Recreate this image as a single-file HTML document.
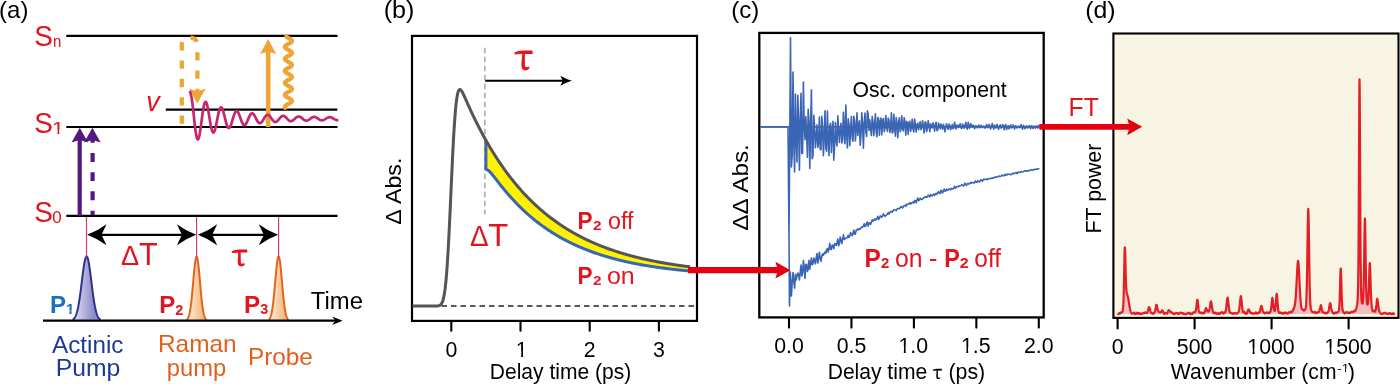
<!DOCTYPE html>
<html><head><meta charset="utf-8"><title>Figure</title>
<style>html,body{margin:0;padding:0;background:#fff;} svg{display:block;}</style></head>
<body><svg width="1400" height="384" viewBox="0 0 1400 384">
<rect width="1400" height="384" fill="#fff"/>
<defs><clipPath id="c1" clipPathUnits="userSpaceOnUse"><path clip-rule="evenodd" d="M-20,-120 H80 V40 H-20 Z M4,-30 H25.1 V40 H4 Z M34.05,-30 H56 V40 H34.05 Z"/></clipPath>
<clipPath id="c1b" clipPathUnits="userSpaceOnUse"><path clip-rule="evenodd" d="M-20,-120 H80 V40 H-20 Z M3,-30 H23.3 V40 H3 Z M37.1,-30 H58 V40 H37.1 Z"/></clipPath></defs>
<text transform="translate(-0.89,18.00)" font-family='"Liberation Sans", Arial, sans-serif' font-size="24.00" fill="#000">(a)</text>
<text transform="translate(34.33,46.10) scale(0.9644,1.0000)" font-family='"Liberation Sans", Arial, sans-serif' font-size="29.00" fill="#E2141E">S</text>
<text transform="translate(52.90,46.90) scale(0.9131,1.0000)" font-family='"Liberation Sans", Arial, sans-serif' font-size="16.50" fill="#E2141E">n</text>
<text transform="translate(34.33,133.00) scale(0.9644,1.0000)" font-family='"Liberation Sans", Arial, sans-serif' font-size="29.00" fill="#E2141E">S</text>
<text transform="translate(51.73,134.40) scale(0.2258,0.1600)" font-family='"Liberation Sans", Arial, sans-serif' font-size="100" fill="#E2141E" clip-path="url(#c1)">1</text>
<text transform="translate(34.33,222.00) scale(0.9644,1.0000)" font-family='"Liberation Sans", Arial, sans-serif' font-size="29.00" fill="#E2141E">S</text>
<text transform="translate(52.24,223.00) scale(0.9967,1.0000)" font-family='"Liberation Sans", Arial, sans-serif' font-size="17.00" fill="#E2141E">0</text>
<text transform="translate(146.33,111.20) scale(0.9807,1.0000)" font-family='"Liberation Sans", Arial, sans-serif' font-size="27.50" font-style="italic" fill="#E2141E">v</text>
<line x1="66.30" y1="35.90" x2="337.50" y2="35.90" stroke="#000" stroke-width="2.2" />
<line x1="66.30" y1="127.00" x2="337.50" y2="127.00" stroke="#000" stroke-width="2.2" />
<line x1="66.30" y1="215.80" x2="337.50" y2="215.80" stroke="#000" stroke-width="2.2" />
<line x1="165.80" y1="109.70" x2="337.30" y2="109.70" stroke="#000" stroke-width="2.2" />
<line x1="79.70" y1="215.80" x2="79.70" y2="139.50" stroke="#521A80" stroke-width="4.2" />
<polygon points="79.80,127.80 88.10,142.40 79.80,140.00 71.50,142.40" fill="#521A80"/>
<path d="M92.6,215 L92.6,210.8 M92.6,200.3 L92.6,191.2 M92.6,181.1 L92.6,172.2 M92.6,162 L92.6,152.9 M92.6,142.8 L92.6,139" stroke="#521A80" stroke-width="4.2" fill="none"/>
<polygon points="92.40,127.80 100.70,142.40 92.40,140.00 84.10,142.40" fill="#521A80"/>
<path d="M181.8,126 L181.8,45.5 Q181.8,37.6 189.6,37.6 Q197.4,37.6 197.4,45.5 L197.4,93" stroke="#EFA534" stroke-width="4.3" fill="none" stroke-dasharray="8.3 10" stroke-dashoffset="16.05"/>
<polygon points="197.30,103.40 188.90,88.60 197.30,91.60 205.70,88.60" fill="#EFA534"/>
<line x1="268.20" y1="127.00" x2="268.20" y2="51.00" stroke="#EFA534" stroke-width="4.6" />
<polygon points="268.20,39.10 276.30,54.00 268.20,51.50 260.10,54.00" fill="#EFA534"/>
<polyline points="286.20,36.60 286.81,37.00 287.49,37.40 288.22,37.80 288.95,38.20 289.65,38.60 290.31,39.00 290.87,39.40 291.34,39.80 291.67,40.20 291.86,40.60 291.90,41.00 291.78,41.40 291.52,41.80 291.12,42.20 290.60,42.60 289.99,43.00 289.31,43.40 288.58,43.80 287.85,44.20 287.15,44.60 286.49,45.00 285.93,45.40 285.46,45.80 285.13,46.20 284.94,46.60 284.90,47.00 285.02,47.40 285.28,47.80 285.68,48.20 286.20,48.60 286.81,49.00 287.49,49.40 288.22,49.80 288.95,50.20 289.65,50.60 290.31,51.00 290.87,51.40 291.34,51.80 291.67,52.20 291.86,52.60 291.90,53.00 291.78,53.40 291.52,53.80 291.12,54.20 290.60,54.60 289.99,55.00 289.31,55.40 288.58,55.80 287.85,56.20 287.15,56.60 286.49,57.00 285.93,57.40 285.46,57.80 285.13,58.20 284.94,58.60 284.90,59.00 285.02,59.40 285.28,59.80 285.68,60.20 286.20,60.60 286.81,61.00 287.49,61.40 288.22,61.80 288.95,62.20 289.65,62.60 290.31,63.00 290.87,63.40 291.34,63.80 291.67,64.20 291.86,64.60 291.90,65.00 291.78,65.40 291.52,65.80 291.12,66.20 290.60,66.60 289.99,67.00 289.31,67.40 288.58,67.80 287.85,68.20 287.15,68.60 286.49,69.00 285.93,69.40 285.46,69.80 285.13,70.20 284.94,70.60 284.90,71.00 285.02,71.40 285.28,71.80 285.68,72.20 286.20,72.60 286.81,73.00 287.49,73.40 288.22,73.80 288.95,74.20 289.65,74.60 290.31,75.00 290.87,75.40 291.34,75.80 291.67,76.20 291.86,76.60 291.90,77.00 291.78,77.40 291.52,77.80 291.12,78.20 290.60,78.60 289.99,79.00 289.31,79.40 288.58,79.80 287.85,80.20 287.15,80.60 286.49,81.00 285.93,81.40 285.46,81.80 285.13,82.20 284.94,82.60 284.90,83.00 285.02,83.40 285.28,83.80 285.68,84.20 286.20,84.60 286.81,85.00 287.49,85.40 288.22,85.80 288.95,86.20 289.65,86.60 290.31,87.00 290.87,87.40 291.34,87.80 291.67,88.20 291.86,88.60 291.90,89.00 291.78,89.40 291.52,89.80 291.12,90.20 290.60,90.60 289.99,91.00 289.31,91.40 288.58,91.80 287.85,92.20 287.15,92.60 286.49,93.00 285.93,93.40 285.46,93.80 285.13,94.20 284.94,94.60 284.90,95.00 285.02,95.40 285.28,95.80 285.68,96.20 286.20,96.60 286.81,97.00 287.49,97.40 288.22,97.80 288.95,98.20 289.65,98.60 290.31,99.00 290.87,99.40 291.34,99.80 291.67,100.20 291.86,100.60 291.90,101.00 291.78,101.40 291.52,101.80 291.12,102.20 290.60,102.60 289.99,103.00 289.31,103.40 288.58,103.80 287.85,104.20 287.15,104.60 286.49,105.00 285.93,105.40 285.46,105.80 285.13,106.20 284.94,106.60 284.90,107.00 285.02,107.40 285.28,107.80" fill="none" stroke="#EFA534" stroke-width="4.3" stroke-linejoin="round" stroke-linecap="round"/>
<polyline points="189.90,91.00 190.80,94.26 191.30,96.18 191.80,98.96 192.30,102.47 192.80,106.54 193.30,111.00 193.80,115.66 194.30,120.32 194.80,124.79 195.30,128.89 195.80,132.48 196.30,135.41 196.80,137.59 197.30,138.94 197.80,139.44 198.30,139.08 198.80,137.91 199.30,135.99 199.80,133.41 200.30,130.31 200.80,126.82 201.30,123.08 201.80,119.27 202.30,115.53 202.80,112.02 203.30,108.87 203.80,106.20 204.30,104.11 204.80,102.66 205.30,101.90 205.80,101.84 206.30,102.47 206.80,103.74 207.30,105.58 207.80,107.91 208.30,110.62 208.80,113.58 209.30,116.68 209.80,119.78 210.30,122.75 210.80,125.49 211.30,127.88 211.80,129.83 212.30,131.29 212.80,132.20 213.30,132.53 213.80,132.30 214.30,131.52 214.80,130.24 215.30,128.53 215.80,126.46 216.30,124.12 216.80,121.63 217.30,119.08 217.80,116.58 218.30,114.23 218.80,112.12 219.30,110.33 219.80,108.92 220.30,107.95 220.80,107.43 221.30,107.39 221.80,107.81 222.30,108.65 222.80,109.89 223.30,111.45 223.80,113.27 224.30,115.26 224.80,117.34 225.30,119.42 225.80,121.43 226.30,123.27 226.80,124.89 227.30,126.21 227.80,127.19 228.30,127.81 228.80,128.04 229.30,127.89 229.80,127.37 230.30,126.51 230.80,125.35 231.30,123.95 231.80,122.37 232.30,120.69 232.80,118.96 233.30,117.26 233.80,115.66 234.30,114.23 234.80,113.01 235.30,112.05 235.80,111.38 236.30,111.03 236.80,111.00 237.30,111.28 237.80,111.85 238.30,112.69 238.80,113.75 239.30,114.99 239.80,116.35 240.30,117.77 240.80,119.20 241.30,120.57 241.80,121.83 242.30,122.94 242.80,123.85 243.30,124.53 243.80,124.96 244.30,125.12 244.80,125.02 245.30,124.67 245.80,124.08 246.30,123.28 246.80,122.32 247.30,121.24 247.80,120.07 248.30,118.88 248.80,117.70 249.30,116.60 249.80,115.60 250.30,114.75 250.80,114.09 251.30,113.62 251.80,113.37 252.30,113.34 252.80,113.53 253.30,113.93 253.80,114.51 254.30,115.25 254.80,116.11 255.30,117.06 255.80,118.05 256.30,119.05 256.80,120.01 257.30,120.90 257.80,121.68 258.30,122.32 258.80,122.80 259.30,123.11 259.80,123.22 260.30,123.16 260.80,122.91 261.30,122.50 261.80,121.94 262.30,121.26 262.80,120.50 263.30,119.67 263.80,118.83 264.30,117.99 264.80,117.21 265.30,116.50 265.80,115.89 266.30,115.41 266.80,115.07 267.30,114.89 267.80,114.87 268.30,115.00 268.80,115.28 269.30,115.69 269.80,116.22 270.30,116.84 270.80,117.52 271.30,118.23 271.80,118.95 272.30,119.65 272.80,120.29 273.30,120.86 273.80,121.32 274.30,121.68 274.80,121.90 275.30,121.99 275.80,121.95 276.30,121.77 276.80,121.47 277.30,121.07 277.80,120.58 278.30,120.02 278.80,119.41 279.30,118.79 279.80,118.18 280.30,117.60 280.80,117.08 281.30,116.63 281.80,116.27 282.30,116.02 282.80,115.88 283.30,115.86 283.80,115.95 284.30,116.16 284.80,116.46 285.30,116.85 285.80,117.31 286.30,117.82 286.80,118.35 287.30,118.89 287.80,119.41 288.30,119.89 288.80,120.32 289.30,120.68 289.80,120.94 290.30,121.12 290.80,121.19 291.30,121.16 291.80,121.03 292.30,120.80 292.80,120.50 293.30,120.13 293.80,119.70 294.30,119.24 294.80,118.77 295.30,118.30 295.80,117.86 296.30,117.45 296.80,117.11 297.30,116.83 297.80,116.63 298.30,116.52 298.80,116.50 299.30,116.57 299.80,116.73 300.30,116.96 300.80,117.26 301.30,117.62 301.80,118.01 302.30,118.43 302.80,118.85 303.30,119.26 303.80,119.64 304.30,119.97 304.80,120.25 305.30,120.47 305.80,120.61 306.30,120.67 306.80,120.64 307.30,120.54 307.80,120.37 308.30,120.13 308.80,119.84 309.30,119.50 309.80,119.13 310.30,118.76 310.80,118.38 311.30,118.02 311.80,117.70 312.30,117.42 312.80,117.19 313.30,117.03 313.80,116.94 314.30,116.92 314.80,116.98 315.30,117.10 315.80,117.29 316.30,117.53 316.80,117.82 317.30,118.14 317.80,118.48 318.30,118.82 318.80,119.16 319.30,119.47 319.80,119.75 320.30,119.98 320.80,120.16 321.30,120.28 321.80,120.33 322.30,120.31 322.80,120.23 323.30,120.09 323.80,119.89 324.30,119.65 324.80,119.37 325.30,119.06 325.80,118.75 326.30,118.43 326.80,118.13 327.30,117.86 327.80,117.62 328.30,117.43 328.80,117.29 329.30,117.21 329.80,117.19 330.30,117.24 330.80,117.34 331.30,117.50 331.80,117.70 332.30,117.95 332.80,118.22 333.30,118.51 333.80,118.80 334.30,119.09 334.80,119.36 335.30,119.60 335.80,119.80 336.30,119.96 336.80,120.06 337.30,120.11 337.80,120.10 338.30,120.03" fill="none" stroke="#C8256F" stroke-width="2.7" stroke-linejoin="round" />
<linearGradient id="g1" x1="0" y1="0" x2="1" y2="0"><stop offset="0" stop-color="#E6E6F4"/><stop offset="0.75" stop-color="#8C8CC8"/><stop offset="1" stop-color="#8C8CC8"/></linearGradient>
<polygon points="72.68,319.74 72.91,319.60 73.14,319.44 73.38,319.26 73.61,319.05 73.84,318.82 74.07,318.57 74.30,318.29 74.54,317.97 74.77,317.62 75.00,317.24 75.23,316.81 75.46,316.35 75.70,315.84 75.93,315.28 76.16,314.67 76.39,314.01 76.62,313.29 76.86,312.52 77.09,311.69 77.32,310.79 77.55,309.84 77.78,308.81 78.02,307.73 78.25,306.57 78.48,305.35 78.71,304.06 78.94,302.71 79.18,301.29 79.41,299.81 79.64,298.26 79.87,296.66 80.10,295.01 80.34,293.30 80.57,291.55 80.80,289.76 81.03,287.94 81.26,286.09 81.50,284.22 81.73,282.34 81.96,280.46 82.19,278.59 82.42,276.73 82.66,274.89 82.89,273.09 83.12,271.34 83.35,269.64 83.58,268.00 83.82,266.44 84.05,264.96 84.28,263.58 84.51,262.30 84.74,261.12 84.98,260.07 85.21,259.14 85.44,258.35 85.67,257.69 85.90,257.17 86.14,256.80 86.37,256.57 86.60,256.50 86.83,256.57 87.06,256.80 87.30,257.17 87.53,257.69 87.76,258.35 87.99,259.14 88.22,260.07 88.46,261.12 88.69,262.30 88.92,263.58 89.15,264.96 89.38,266.44 89.62,268.00 89.85,269.64 90.08,271.34 90.31,273.09 90.54,274.89 90.78,276.73 91.01,278.59 91.24,280.46 91.47,282.34 91.70,284.22 91.94,286.09 92.17,287.94 92.40,289.76 92.63,291.55 92.86,293.30 93.10,295.01 93.33,296.66 93.56,298.26 93.79,299.81 94.02,301.29 94.26,302.71 94.49,304.06 94.72,305.35 94.95,306.57 95.18,307.73 95.42,308.81 95.65,309.84 95.88,310.79 96.11,311.69 96.34,312.52 96.58,313.29 96.81,314.01 97.04,314.67 97.27,315.28 97.50,315.84 97.74,316.35 97.97,316.81 98.20,317.24 98.43,317.62 98.66,317.97 98.90,318.29 99.13,318.57 99.36,318.82 99.59,319.05 99.82,319.26 100.06,319.44 100.29,319.60 100.52,319.74" fill="url(#g1)" stroke="none"/>
<polyline points="72.68,319.74 72.91,319.60 73.14,319.44 73.38,319.26 73.61,319.05 73.84,318.82 74.07,318.57 74.30,318.29 74.54,317.97 74.77,317.62 75.00,317.24 75.23,316.81 75.46,316.35 75.70,315.84 75.93,315.28 76.16,314.67 76.39,314.01 76.62,313.29 76.86,312.52 77.09,311.69 77.32,310.79 77.55,309.84 77.78,308.81 78.02,307.73 78.25,306.57 78.48,305.35 78.71,304.06 78.94,302.71 79.18,301.29 79.41,299.81 79.64,298.26 79.87,296.66 80.10,295.01 80.34,293.30 80.57,291.55 80.80,289.76 81.03,287.94 81.26,286.09 81.50,284.22 81.73,282.34 81.96,280.46 82.19,278.59 82.42,276.73 82.66,274.89 82.89,273.09 83.12,271.34 83.35,269.64 83.58,268.00 83.82,266.44 84.05,264.96 84.28,263.58 84.51,262.30 84.74,261.12 84.98,260.07 85.21,259.14 85.44,258.35 85.67,257.69 85.90,257.17 86.14,256.80 86.37,256.57 86.60,256.50 86.83,256.57 87.06,256.80 87.30,257.17 87.53,257.69 87.76,258.35 87.99,259.14 88.22,260.07 88.46,261.12 88.69,262.30 88.92,263.58 89.15,264.96 89.38,266.44 89.62,268.00 89.85,269.64 90.08,271.34 90.31,273.09 90.54,274.89 90.78,276.73 91.01,278.59 91.24,280.46 91.47,282.34 91.70,284.22 91.94,286.09 92.17,287.94 92.40,289.76 92.63,291.55 92.86,293.30 93.10,295.01 93.33,296.66 93.56,298.26 93.79,299.81 94.02,301.29 94.26,302.71 94.49,304.06 94.72,305.35 94.95,306.57 95.18,307.73 95.42,308.81 95.65,309.84 95.88,310.79 96.11,311.69 96.34,312.52 96.58,313.29 96.81,314.01 97.04,314.67 97.27,315.28 97.50,315.84 97.74,316.35 97.97,316.81 98.20,317.24 98.43,317.62 98.66,317.97 98.90,318.29 99.13,318.57 99.36,318.82 99.59,319.05 99.82,319.26 100.06,319.44 100.29,319.60 100.52,319.74" fill="none" stroke="#2E3192" stroke-width="2.0" stroke-linejoin="round" />
<linearGradient id="g2" x1="0" y1="0" x2="1" y2="0"><stop offset="0" stop-color="#FDF0E0"/><stop offset="0.75" stop-color="#F4BE86"/><stop offset="1" stop-color="#F4BE86"/></linearGradient>
<polygon points="186.74,319.75 186.90,319.60 187.07,319.44 187.23,319.26 187.40,319.06 187.56,318.83 187.73,318.58 187.89,318.29 188.05,317.98 188.22,317.63 188.38,317.25 188.55,316.83 188.71,316.36 188.88,315.85 189.04,315.30 189.20,314.69 189.37,314.03 189.53,313.32 189.70,312.55 189.86,311.72 190.03,310.83 190.19,309.87 190.36,308.85 190.52,307.77 190.68,306.62 190.85,305.40 191.01,304.11 191.18,302.76 191.34,301.35 191.51,299.87 191.67,298.33 191.83,296.74 192.00,295.09 192.16,293.39 192.33,291.64 192.49,289.86 192.66,288.04 192.82,286.20 192.98,284.34 193.15,282.46 193.31,280.59 193.48,278.72 193.64,276.86 193.81,275.04 193.97,273.24 194.13,271.49 194.30,269.80 194.46,268.16 194.63,266.61 194.79,265.14 194.96,263.76 195.12,262.48 195.29,261.31 195.45,260.26 195.61,259.34 195.78,258.54 195.94,257.88 196.11,257.37 196.27,257.00 196.44,256.77 196.60,256.70 196.76,256.77 196.93,257.00 197.09,257.37 197.26,257.88 197.42,258.54 197.59,259.34 197.75,260.26 197.91,261.31 198.08,262.48 198.24,263.76 198.41,265.14 198.57,266.61 198.74,268.16 198.90,269.80 199.06,271.49 199.23,273.24 199.39,275.04 199.56,276.86 199.72,278.72 199.89,280.59 200.05,282.46 200.22,284.34 200.38,286.20 200.54,288.04 200.71,289.86 200.87,291.64 201.04,293.39 201.20,295.09 201.37,296.74 201.53,298.33 201.69,299.87 201.86,301.35 202.02,302.76 202.19,304.11 202.35,305.40 202.52,306.62 202.68,307.77 202.84,308.85 203.01,309.87 203.17,310.83 203.34,311.72 203.50,312.55 203.67,313.32 203.83,314.03 204.00,314.69 204.16,315.30 204.32,315.85 204.49,316.36 204.65,316.83 204.82,317.25 204.98,317.63 205.15,317.98 205.31,318.29 205.47,318.58 205.64,318.83 205.80,319.06 205.97,319.26 206.13,319.44 206.30,319.60 206.46,319.75" fill="url(#g2)" stroke="none"/>
<polyline points="186.74,319.75 186.90,319.60 187.07,319.44 187.23,319.26 187.40,319.06 187.56,318.83 187.73,318.58 187.89,318.29 188.05,317.98 188.22,317.63 188.38,317.25 188.55,316.83 188.71,316.36 188.88,315.85 189.04,315.30 189.20,314.69 189.37,314.03 189.53,313.32 189.70,312.55 189.86,311.72 190.03,310.83 190.19,309.87 190.36,308.85 190.52,307.77 190.68,306.62 190.85,305.40 191.01,304.11 191.18,302.76 191.34,301.35 191.51,299.87 191.67,298.33 191.83,296.74 192.00,295.09 192.16,293.39 192.33,291.64 192.49,289.86 192.66,288.04 192.82,286.20 192.98,284.34 193.15,282.46 193.31,280.59 193.48,278.72 193.64,276.86 193.81,275.04 193.97,273.24 194.13,271.49 194.30,269.80 194.46,268.16 194.63,266.61 194.79,265.14 194.96,263.76 195.12,262.48 195.29,261.31 195.45,260.26 195.61,259.34 195.78,258.54 195.94,257.88 196.11,257.37 196.27,257.00 196.44,256.77 196.60,256.70 196.76,256.77 196.93,257.00 197.09,257.37 197.26,257.88 197.42,258.54 197.59,259.34 197.75,260.26 197.91,261.31 198.08,262.48 198.24,263.76 198.41,265.14 198.57,266.61 198.74,268.16 198.90,269.80 199.06,271.49 199.23,273.24 199.39,275.04 199.56,276.86 199.72,278.72 199.89,280.59 200.05,282.46 200.22,284.34 200.38,286.20 200.54,288.04 200.71,289.86 200.87,291.64 201.04,293.39 201.20,295.09 201.37,296.74 201.53,298.33 201.69,299.87 201.86,301.35 202.02,302.76 202.19,304.11 202.35,305.40 202.52,306.62 202.68,307.77 202.84,308.85 203.01,309.87 203.17,310.83 203.34,311.72 203.50,312.55 203.67,313.32 203.83,314.03 204.00,314.69 204.16,315.30 204.32,315.85 204.49,316.36 204.65,316.83 204.82,317.25 204.98,317.63 205.15,317.98 205.31,318.29 205.47,318.58 205.64,318.83 205.80,319.06 205.97,319.26 206.13,319.44 206.30,319.60 206.46,319.75" fill="none" stroke="#E4641C" stroke-width="2.0" stroke-linejoin="round" />
<linearGradient id="g3" x1="0" y1="0" x2="1" y2="0"><stop offset="0" stop-color="#FDF0E0"/><stop offset="0.75" stop-color="#F4BE86"/><stop offset="1" stop-color="#F4BE86"/></linearGradient>
<polygon points="268.74,319.74 268.90,319.60 269.07,319.44 269.23,319.26 269.40,319.06 269.56,318.83 269.73,318.57 269.89,318.29 270.05,317.98 270.22,317.63 270.38,317.24 270.55,316.82 270.71,316.35 270.88,315.84 271.04,315.29 271.21,314.68 271.37,314.02 271.53,313.31 271.70,312.53 271.86,311.70 272.03,310.81 272.19,309.85 272.36,308.83 272.52,307.75 272.68,306.59 272.85,305.37 273.01,304.09 273.18,302.73 273.34,301.32 273.51,299.84 273.67,298.30 273.83,296.70 274.00,295.05 274.16,293.34 274.33,291.60 274.49,289.81 274.66,287.99 274.82,286.15 274.98,284.28 275.15,282.40 275.31,280.53 275.48,278.65 275.64,276.80 275.81,274.96 275.97,273.17 276.14,271.41 276.30,269.72 276.46,268.08 276.63,266.52 276.79,265.05 276.96,263.67 277.12,262.39 277.29,261.22 277.45,260.17 277.61,259.24 277.78,258.44 277.94,257.79 278.11,257.27 278.27,256.90 278.44,256.67 278.60,256.60 278.76,256.67 278.93,256.90 279.09,257.27 279.26,257.79 279.42,258.44 279.59,259.24 279.75,260.17 279.91,261.22 280.08,262.39 280.24,263.67 280.41,265.05 280.57,266.52 280.74,268.08 280.90,269.72 281.06,271.41 281.23,273.17 281.39,274.96 281.56,276.80 281.72,278.65 281.89,280.53 282.05,282.40 282.22,284.28 282.38,286.15 282.54,287.99 282.71,289.81 282.87,291.60 283.04,293.34 283.20,295.05 283.37,296.70 283.53,298.30 283.69,299.84 283.86,301.32 284.02,302.73 284.19,304.09 284.35,305.37 284.52,306.59 284.68,307.75 284.84,308.83 285.01,309.85 285.17,310.81 285.34,311.70 285.50,312.53 285.67,313.31 285.83,314.02 286.00,314.68 286.16,315.29 286.32,315.84 286.49,316.35 286.65,316.82 286.82,317.24 286.98,317.63 287.15,317.98 287.31,318.29 287.47,318.57 287.64,318.83 287.80,319.06 287.97,319.26 288.13,319.44 288.30,319.60 288.46,319.74" fill="url(#g3)" stroke="none"/>
<polyline points="268.74,319.74 268.90,319.60 269.07,319.44 269.23,319.26 269.40,319.06 269.56,318.83 269.73,318.57 269.89,318.29 270.05,317.98 270.22,317.63 270.38,317.24 270.55,316.82 270.71,316.35 270.88,315.84 271.04,315.29 271.21,314.68 271.37,314.02 271.53,313.31 271.70,312.53 271.86,311.70 272.03,310.81 272.19,309.85 272.36,308.83 272.52,307.75 272.68,306.59 272.85,305.37 273.01,304.09 273.18,302.73 273.34,301.32 273.51,299.84 273.67,298.30 273.83,296.70 274.00,295.05 274.16,293.34 274.33,291.60 274.49,289.81 274.66,287.99 274.82,286.15 274.98,284.28 275.15,282.40 275.31,280.53 275.48,278.65 275.64,276.80 275.81,274.96 275.97,273.17 276.14,271.41 276.30,269.72 276.46,268.08 276.63,266.52 276.79,265.05 276.96,263.67 277.12,262.39 277.29,261.22 277.45,260.17 277.61,259.24 277.78,258.44 277.94,257.79 278.11,257.27 278.27,256.90 278.44,256.67 278.60,256.60 278.76,256.67 278.93,256.90 279.09,257.27 279.26,257.79 279.42,258.44 279.59,259.24 279.75,260.17 279.91,261.22 280.08,262.39 280.24,263.67 280.41,265.05 280.57,266.52 280.74,268.08 280.90,269.72 281.06,271.41 281.23,273.17 281.39,274.96 281.56,276.80 281.72,278.65 281.89,280.53 282.05,282.40 282.22,284.28 282.38,286.15 282.54,287.99 282.71,289.81 282.87,291.60 283.04,293.34 283.20,295.05 283.37,296.70 283.53,298.30 283.69,299.84 283.86,301.32 284.02,302.73 284.19,304.09 284.35,305.37 284.52,306.59 284.68,307.75 284.84,308.83 285.01,309.85 285.17,310.81 285.34,311.70 285.50,312.53 285.67,313.31 285.83,314.02 286.00,314.68 286.16,315.29 286.32,315.84 286.49,316.35 286.65,316.82 286.82,317.24 286.98,317.63 287.15,317.98 287.31,318.29 287.47,318.57 287.64,318.83 287.80,319.06 287.97,319.26 288.13,319.44 288.30,319.60 288.46,319.74" fill="none" stroke="#E4641C" stroke-width="2.0" stroke-linejoin="round" />
<line x1="86.50" y1="217.00" x2="86.50" y2="257.50" stroke="#D23C80" stroke-width="1.2" />
<line x1="196.60" y1="217.00" x2="196.60" y2="257.50" stroke="#D23C80" stroke-width="1.2" />
<line x1="278.60" y1="217.00" x2="278.60" y2="257.50" stroke="#D23C80" stroke-width="1.2" />
<line x1="100.00" y1="234.80" x2="184.00" y2="234.80" stroke="#000" stroke-width="2.3" />
<path d="M87.20,234.80 Q97.81,230.81 106.50,224.30 L101.50,234.80 L106.50,245.30 Q97.81,238.79 87.20,234.80Z" fill="#000"/>
<path d="M196.20,234.80 Q185.58,238.79 176.90,245.30 L181.90,234.80 L176.90,224.30 Q185.58,230.81 196.20,234.80Z" fill="#000"/>
<line x1="210.00" y1="234.80" x2="266.00" y2="234.80" stroke="#000" stroke-width="2.3" />
<path d="M197.90,234.80 Q208.52,230.81 217.20,224.30 L212.20,234.80 L217.20,245.30 Q208.52,238.79 197.90,234.80Z" fill="#000"/>
<path d="M278.10,234.80 Q267.49,238.79 258.80,245.30 L263.80,234.80 L258.80,224.30 Q267.49,230.81 278.10,234.80Z" fill="#000"/>
<text transform="translate(120.89,264.70) scale(1.3571,1.3663)" font-family='"Liberation Sans", Arial, sans-serif' font-size="20.00" fill="#E2141E">Δ</text>
<text transform="translate(139.11,264.60) scale(1.5298,1.5407)" font-family='"Liberation Sans", Arial, sans-serif' font-size="20.00" fill="#E2141E">T</text>
<text transform="translate(231.42,266.03) scale(1.6129,1.5755)" font-family='"Noto Serif CJK SC", "Liberation Serif", serif' font-size="20.00" stroke="#E2141E" stroke-width="0.502" stroke-linejoin="round" fill="#E2141E">τ</text>
<line x1="43.00" y1="320.70" x2="336.00" y2="320.70" stroke="#000" stroke-width="2.2" />
<polygon points="342.60,320.70 332.20,325.00 335.40,320.70 332.20,316.40" fill="#000"/>
<text transform="translate(310.86,308.60) scale(0.9937,1.0000)" font-family='"Liberation Sans", Arial, sans-serif' font-size="24.00" fill="#000">Time</text>
<text transform="translate(50.09,313.00) scale(0.9809,1.0000)" font-family='"Liberation Sans", Arial, sans-serif' font-size="24.50" font-weight="bold" fill="#1A72BD">P</text>
<text transform="translate(65.71,314.20) scale(0.1588,0.1420)" font-family='"Liberation Sans", Arial, sans-serif' font-size="100" font-weight="bold" fill="#1A72BD" clip-path="url(#c1b)">1</text>
<text transform="translate(159.29,313.40) scale(0.9809,1.0000)" font-family='"Liberation Sans", Arial, sans-serif' font-size="24.50" font-weight="bold" fill="#E2141E">P</text>
<text transform="translate(175.20,314.80)" font-family='"Liberation Sans", Arial, sans-serif' font-size="14.50" font-weight="bold" fill="#E2141E">2</text>
<text transform="translate(243.98,313.20) scale(0.9881,1.0000)" font-family='"Liberation Sans", Arial, sans-serif' font-size="24.50" font-weight="bold" fill="#E2141E">P</text>
<text transform="translate(260.27,314.40) scale(0.9657,1.0000)" font-family='"Liberation Sans", Arial, sans-serif' font-size="15.00" font-weight="bold" fill="#E2141E">3</text>
<text transform="translate(52.05,352.50) scale(1.0099,1.0000)" font-family='"Liberation Sans", Arial, sans-serif' font-size="24.00" fill="#1E3A96">Actinic</text>
<text transform="translate(55.67,376.40) scale(1.0298,1.0000)" font-family='"Liberation Sans", Arial, sans-serif' font-size="24.00" fill="#1E3A96">Pump</text>
<text transform="translate(157.89,352.20) scale(1.0184,1.0000)" font-family='"Liberation Sans", Arial, sans-serif' font-size="24.00" fill="#E2601E">Raman</text>
<text transform="translate(166.87,376.40) scale(0.9899,1.0000)" font-family='"Liberation Sans", Arial, sans-serif' font-size="24.00" fill="#E2601E">pump</text>
<text transform="translate(247.90,364.50) scale(1.0146,1.0000)" font-family='"Liberation Sans", Arial, sans-serif' font-size="24.00" fill="#E2601E">Probe</text>
<text transform="translate(383.64,18.00) scale(1.0472,1.0000)" font-family='"Liberation Sans", Arial, sans-serif' font-size="24.00" fill="#000">(b)</text>
<rect x="412.0" y="35.9" width="285.0" height="285.0" fill="none" stroke="#000" stroke-width="2.2"/>
<line x1="451.30" y1="321.50" x2="451.30" y2="330.80" stroke="#000" stroke-width="2.1" stroke-linecap="round"/>
<text transform="translate(445.38,356.80)" font-family='"Liberation Sans", Arial, sans-serif' font-size="21.30" fill="#000">0</text>
<line x1="520.50" y1="321.50" x2="520.50" y2="330.80" stroke="#000" stroke-width="2.1" stroke-linecap="round"/>
<text transform="translate(515.86,356.80) scale(0.2130,0.2130)" font-family='"Liberation Sans", Arial, sans-serif' font-size="100" fill="#000" clip-path="url(#c1)">1</text>
<line x1="589.70" y1="321.50" x2="589.70" y2="330.80" stroke="#000" stroke-width="2.1" stroke-linecap="round"/>
<text transform="translate(583.78,356.80)" font-family='"Liberation Sans", Arial, sans-serif' font-size="21.30" fill="#000">2</text>
<line x1="658.90" y1="321.50" x2="658.90" y2="330.80" stroke="#000" stroke-width="2.1" stroke-linecap="round"/>
<text transform="translate(653.04,356.80)" font-family='"Liberation Sans", Arial, sans-serif' font-size="21.30" fill="#000">3</text>
<text transform="translate(489.77,378.80) scale(0.9883,1.0000)" font-family='"Liberation Sans", Arial, sans-serif' font-size="21.30" fill="#000">Delay time (ps)</text>
<text transform="translate(400.90,224.79) rotate(-90) scale(1.0334,1)" font-family='"Liberation Sans", Arial, sans-serif' font-size="22.50" fill="#000">Δ Abs.</text>
<line x1="413.00" y1="306.00" x2="696.00" y2="306.00" stroke="#222" stroke-width="1.3" stroke-dasharray="5.5 4"/>
<line x1="484.90" y1="47.80" x2="484.90" y2="214.50" stroke="#999" stroke-width="1.3" stroke-dasharray="5.5 3.5"/>
<polygon points="485.90,140.23 486.59,141.45 487.28,142.66 487.98,143.86 488.67,145.04 489.36,146.22 490.05,147.39 490.74,148.54 491.44,149.69 492.13,150.83 492.82,151.95 493.51,153.07 494.20,154.17 494.90,155.27 495.59,156.35 496.28,157.43 496.97,158.50 497.66,159.55 498.36,160.60 499.05,161.64 499.74,162.67 500.43,163.69 501.12,164.70 501.82,165.70 502.51,166.69 503.20,167.67 503.89,168.65 504.58,169.61 505.28,170.57 505.97,171.52 506.66,172.46 507.35,173.39 508.04,174.32 508.74,175.23 509.43,176.14 510.12,177.04 510.81,177.93 511.50,178.81 512.20,179.68 512.89,180.55 513.58,181.41 514.27,182.26 514.96,183.11 515.66,183.94 516.35,184.77 517.04,185.59 517.73,186.41 518.42,187.21 519.12,188.01 519.81,188.80 520.50,189.59 521.19,190.37 521.88,191.14 522.58,191.90 523.27,192.66 523.96,193.41 524.65,194.15 525.34,194.89 526.04,195.62 526.73,196.35 527.42,197.06 528.11,197.77 528.80,198.48 529.50,199.18 530.19,199.87 530.88,200.56 531.57,201.24 532.26,201.91 532.96,202.58 533.65,203.24 534.34,203.89 535.03,204.54 535.72,205.19 536.42,205.83 537.11,206.46 537.80,207.09 538.49,207.71 539.18,208.32 539.88,208.93 540.57,209.54 541.26,210.14 541.95,210.73 542.64,211.32 543.34,211.90 544.03,212.48 544.72,213.05 545.41,213.62 546.10,214.18 546.80,214.74 547.49,215.30 548.18,215.84 548.87,216.39 549.56,216.92 550.26,217.46 550.95,217.99 551.64,218.51 552.33,219.03 553.02,219.54 553.72,220.05 554.41,220.56 555.10,221.06 555.79,221.55 556.48,222.04 557.18,222.53 557.87,223.01 558.56,223.49 559.25,223.97 559.94,224.44 560.64,224.90 561.33,225.36 562.02,225.82 562.71,226.28 563.40,226.72 564.10,227.17 564.79,227.61 565.48,228.05 566.17,228.48 566.86,228.91 567.56,229.34 568.25,229.76 568.94,230.18 569.63,230.59 570.32,231.00 571.02,231.41 571.71,231.81 572.40,232.21 573.09,232.61 573.78,233.00 574.48,233.39 575.17,233.78 575.86,234.16 576.55,234.54 577.24,234.91 577.94,235.28 578.63,235.65 579.32,236.02 580.01,236.38 580.70,236.74 581.40,237.09 582.09,237.45 582.78,237.79 583.47,238.14 584.16,238.48 584.86,238.82 585.55,239.16 586.24,239.49 586.93,239.82 587.62,240.15 588.32,240.48 589.01,240.80 589.70,241.12 590.39,241.43 591.08,241.75 591.78,242.06 592.47,242.37 593.16,242.67 593.85,242.97 594.54,243.27 595.24,243.57 595.93,243.86 596.62,244.16 597.31,244.45 598.00,244.73 598.70,245.02 599.39,245.30 600.08,245.58 600.77,245.85 601.46,246.13 602.16,246.40 602.85,246.67 603.54,246.93 604.23,247.20 604.92,247.46 605.62,247.72 606.31,247.97 607.00,248.23 607.69,248.48 608.38,248.73 609.08,248.98 609.77,249.23 610.46,249.47 611.15,249.71 611.84,249.95 612.54,250.19 613.23,250.42 613.92,250.66 614.61,250.89 615.30,251.11 616.00,251.34 616.69,251.57 617.38,251.79 618.07,252.01 618.76,252.23 619.46,252.44 620.15,252.66 620.84,252.87 621.53,253.08 622.22,253.29 622.92,253.50 623.61,253.70 624.30,253.91 624.99,254.11 625.68,254.31 626.38,254.51 627.07,254.70 627.76,254.90 628.45,255.09 629.14,255.28 629.84,255.47 630.53,255.66 631.22,255.84 631.91,256.03 632.60,256.21 633.30,256.39 633.99,256.57 634.68,256.75 635.37,256.93 636.06,257.10 636.76,257.27 637.45,257.44 638.14,257.61 638.83,257.78 639.52,257.95 640.22,258.11 640.91,258.28 641.60,258.44 642.29,258.60 642.98,258.76 643.68,258.92 644.37,259.08 645.06,259.23 645.75,259.39 646.44,259.54 647.14,259.69 647.83,259.84 648.52,259.99 649.21,260.13 649.90,260.28 650.60,260.42 651.29,260.57 651.98,260.71 652.67,260.85 653.36,260.99 654.06,261.13 654.75,261.27 655.44,261.40 656.13,261.54 656.82,261.67 657.52,261.80 658.21,261.93 658.90,262.06 659.59,262.19 660.28,262.32 660.98,262.44 661.67,262.57 662.36,262.69 663.05,262.82 663.74,262.94 664.44,263.06 665.13,263.18 665.82,263.30 666.51,263.41 667.20,263.53 667.90,263.64 668.59,263.76 669.28,263.87 669.97,263.98 670.66,264.10 671.36,264.21 672.05,264.32 672.74,264.42 673.43,264.53 674.12,264.64 674.82,264.74 675.51,264.85 676.20,264.95 676.89,265.05 677.58,265.16 678.28,265.26 678.97,265.36 679.66,265.46 680.35,265.55 681.04,265.65 681.74,265.75 682.43,265.84 683.12,265.94 683.81,266.03 684.50,266.12 685.20,266.22 685.89,266.31 686.58,266.40 687.27,266.49 687.96,266.58 688.66,266.66 689.35,266.75 690.04,266.84 690.04,271.03 689.35,270.97 688.66,270.90 687.96,270.84 687.27,270.78 686.58,270.71 685.89,270.65 685.20,270.58 684.50,270.52 683.81,270.45 683.12,270.38 682.43,270.31 681.74,270.24 681.04,270.17 680.35,270.10 679.66,270.03 678.97,269.96 678.28,269.89 677.58,269.82 676.89,269.74 676.20,269.67 675.51,269.59 674.82,269.51 674.12,269.44 673.43,269.36 672.74,269.28 672.05,269.20 671.36,269.12 670.66,269.04 669.97,268.96 669.28,268.88 668.59,268.79 667.90,268.71 667.20,268.62 666.51,268.54 665.82,268.45 665.13,268.36 664.44,268.27 663.74,268.18 663.05,268.09 662.36,268.00 661.67,267.91 660.98,267.81 660.28,267.72 659.59,267.62 658.90,267.53 658.21,267.43 657.52,267.33 656.82,267.23 656.13,267.13 655.44,267.03 654.75,266.93 654.06,266.83 653.36,266.72 652.67,266.62 651.98,266.51 651.29,266.40 650.60,266.29 649.90,266.18 649.21,266.07 648.52,265.96 647.83,265.85 647.14,265.74 646.44,265.62 645.75,265.50 645.06,265.39 644.37,265.27 643.68,265.15 642.98,265.03 642.29,264.90 641.60,264.78 640.91,264.66 640.22,264.53 639.52,264.40 638.83,264.27 638.14,264.14 637.45,264.01 636.76,263.88 636.06,263.75 635.37,263.61 634.68,263.47 633.99,263.34 633.30,263.20 632.60,263.06 631.91,262.91 631.22,262.77 630.53,262.63 629.84,262.48 629.14,262.33 628.45,262.18 627.76,262.03 627.07,261.88 626.38,261.73 625.68,261.57 624.99,261.42 624.30,261.26 623.61,261.10 622.92,260.94 622.22,260.77 621.53,260.61 620.84,260.44 620.15,260.27 619.46,260.10 618.76,259.93 618.07,259.76 617.38,259.59 616.69,259.41 616.00,259.23 615.30,259.05 614.61,258.87 613.92,258.69 613.23,258.50 612.54,258.31 611.84,258.13 611.15,257.94 610.46,257.74 609.77,257.55 609.08,257.35 608.38,257.15 607.69,256.95 607.00,256.75 606.31,256.55 605.62,256.34 604.92,256.13 604.23,255.92 603.54,255.71 602.85,255.50 602.16,255.28 601.46,255.06 600.77,254.84 600.08,254.62 599.39,254.39 598.70,254.16 598.00,253.93 597.31,253.70 596.62,253.47 595.93,253.23 595.24,252.99 594.54,252.75 593.85,252.51 593.16,252.26 592.47,252.02 591.78,251.76 591.08,251.51 590.39,251.26 589.70,251.00 589.01,250.74 588.32,250.47 587.62,250.21 586.93,249.94 586.24,249.67 585.55,249.40 584.86,249.12 584.16,248.84 583.47,248.56 582.78,248.28 582.09,247.99 581.40,247.70 580.70,247.41 580.01,247.11 579.32,246.81 578.63,246.51 577.94,246.21 577.24,245.90 576.55,245.59 575.86,245.28 575.17,244.96 574.48,244.64 573.78,244.32 573.09,244.00 572.40,243.67 571.71,243.34 571.02,243.00 570.32,242.66 569.63,242.32 568.94,241.98 568.25,241.63 567.56,241.28 566.86,240.92 566.17,240.56 565.48,240.20 564.79,239.84 564.10,239.47 563.40,239.10 562.71,238.72 562.02,238.34 561.33,237.96 560.64,237.57 559.94,237.18 559.25,236.79 558.56,236.39 557.87,235.99 557.18,235.58 556.48,235.17 555.79,234.76 555.10,234.34 554.41,233.92 553.72,233.49 553.02,233.06 552.33,232.63 551.64,232.19 550.95,231.75 550.26,231.30 549.56,230.85 548.87,230.39 548.18,229.93 547.49,229.47 546.80,229.00 546.10,228.53 545.41,228.05 544.72,227.57 544.03,227.08 543.34,226.59 542.64,226.09 541.95,225.59 541.26,225.09 540.57,224.58 539.88,224.06 539.18,223.54 538.49,223.02 537.80,222.48 537.11,221.95 536.42,221.41 535.72,220.86 535.03,220.31 534.34,219.76 533.65,219.19 532.96,218.63 532.26,218.05 531.57,217.48 530.88,216.89 530.19,216.30 529.50,215.71 528.80,215.11 528.11,214.50 527.42,213.89 526.73,213.27 526.04,212.65 525.34,212.02 524.65,211.38 523.96,210.74 523.27,210.10 522.58,209.44 521.88,208.78 521.19,208.12 520.50,207.44 519.81,206.76 519.12,206.08 518.42,205.39 517.73,204.69 517.04,203.98 516.35,203.27 515.66,202.55 514.96,201.83 514.27,201.09 513.58,200.35 512.89,199.61 512.20,198.85 511.50,198.09 510.81,197.33 510.12,196.55 509.43,195.77 508.74,194.98 508.04,194.18 507.35,193.38 506.66,192.57 505.97,191.75 505.28,190.93 504.58,190.09 503.89,189.25 503.20,188.41 502.51,187.55 501.82,186.69 501.12,185.83 500.43,184.96 499.74,184.08 499.05,183.20 498.36,182.31 497.66,181.42 496.97,180.53 496.28,179.64 495.59,178.75 494.90,177.86 494.20,176.98 493.51,176.11 492.82,175.25 492.13,174.41 491.44,173.59 490.74,172.80 490.05,172.06 489.36,171.36 488.67,170.73 487.98,170.18 487.28,169.73 486.59,169.40 485.90,169.23 485.90,140.23" fill="#FFF200"/>
<polyline points="485.90,140.23 485.90,169.23 486.59,169.40 487.28,169.73 487.98,170.18 488.67,170.73 489.36,171.36 490.05,172.06 490.74,172.80 491.44,173.59 492.13,174.41 492.82,175.25 493.51,176.11 494.20,176.98 494.90,177.86 495.59,178.75 496.28,179.64 496.97,180.53 497.66,181.42 498.36,182.31 499.05,183.20 499.74,184.08 500.43,184.96 501.12,185.83 501.82,186.69 502.51,187.55 503.20,188.41 503.89,189.25 504.58,190.09 505.28,190.93 505.97,191.75 506.66,192.57 507.35,193.38 508.04,194.18 508.74,194.98 509.43,195.77 510.12,196.55 510.81,197.33 511.50,198.09 512.20,198.85 512.89,199.61 513.58,200.35 514.27,201.09 514.96,201.83 515.66,202.55 516.35,203.27 517.04,203.98 517.73,204.69 518.42,205.39 519.12,206.08 519.81,206.76 520.50,207.44 521.19,208.12 521.88,208.78 522.58,209.44 523.27,210.10 523.96,210.74 524.65,211.38 525.34,212.02 526.04,212.65 526.73,213.27 527.42,213.89 528.11,214.50 528.80,215.11 529.50,215.71 530.19,216.30 530.88,216.89 531.57,217.48 532.26,218.05 532.96,218.63 533.65,219.19 534.34,219.76 535.03,220.31 535.72,220.86 536.42,221.41 537.11,221.95 537.80,222.48 538.49,223.02 539.18,223.54 539.88,224.06 540.57,224.58 541.26,225.09 541.95,225.59 542.64,226.09 543.34,226.59 544.03,227.08 544.72,227.57 545.41,228.05 546.10,228.53 546.80,229.00 547.49,229.47 548.18,229.93 548.87,230.39 549.56,230.85 550.26,231.30 550.95,231.75 551.64,232.19 552.33,232.63 553.02,233.06 553.72,233.49 554.41,233.92 555.10,234.34 555.79,234.76 556.48,235.17 557.18,235.58 557.87,235.99 558.56,236.39 559.25,236.79 559.94,237.18 560.64,237.57 561.33,237.96 562.02,238.34 562.71,238.72 563.40,239.10 564.10,239.47 564.79,239.84 565.48,240.20 566.17,240.56 566.86,240.92 567.56,241.28 568.25,241.63 568.94,241.98 569.63,242.32 570.32,242.66 571.02,243.00 571.71,243.34 572.40,243.67 573.09,244.00 573.78,244.32 574.48,244.64 575.17,244.96 575.86,245.28 576.55,245.59 577.24,245.90 577.94,246.21 578.63,246.51 579.32,246.81 580.01,247.11 580.70,247.41 581.40,247.70 582.09,247.99 582.78,248.28 583.47,248.56 584.16,248.84 584.86,249.12 585.55,249.40 586.24,249.67 586.93,249.94 587.62,250.21 588.32,250.47 589.01,250.74 589.70,251.00 590.39,251.26 591.08,251.51 591.78,251.76 592.47,252.02 593.16,252.26 593.85,252.51 594.54,252.75 595.24,252.99 595.93,253.23 596.62,253.47 597.31,253.70 598.00,253.93 598.70,254.16 599.39,254.39 600.08,254.62 600.77,254.84 601.46,255.06 602.16,255.28 602.85,255.50 603.54,255.71 604.23,255.92 604.92,256.13 605.62,256.34 606.31,256.55 607.00,256.75 607.69,256.95 608.38,257.15 609.08,257.35 609.77,257.55 610.46,257.74 611.15,257.94 611.84,258.13 612.54,258.31 613.23,258.50 613.92,258.69 614.61,258.87 615.30,259.05 616.00,259.23 616.69,259.41 617.38,259.59 618.07,259.76 618.76,259.93 619.46,260.10 620.15,260.27 620.84,260.44 621.53,260.61 622.22,260.77 622.92,260.94 623.61,261.10 624.30,261.26 624.99,261.42 625.68,261.57 626.38,261.73 627.07,261.88 627.76,262.03 628.45,262.18 629.14,262.33 629.84,262.48 630.53,262.63 631.22,262.77 631.91,262.91 632.60,263.06 633.30,263.20 633.99,263.34 634.68,263.47 635.37,263.61 636.06,263.75 636.76,263.88 637.45,264.01 638.14,264.14 638.83,264.27 639.52,264.40 640.22,264.53 640.91,264.66 641.60,264.78 642.29,264.90 642.98,265.03 643.68,265.15 644.37,265.27 645.06,265.39 645.75,265.50 646.44,265.62 647.14,265.74 647.83,265.85 648.52,265.96 649.21,266.07 649.90,266.18 650.60,266.29 651.29,266.40 651.98,266.51 652.67,266.62 653.36,266.72 654.06,266.83 654.75,266.93 655.44,267.03 656.13,267.13 656.82,267.23 657.52,267.33 658.21,267.43 658.90,267.53 659.59,267.62 660.28,267.72 660.98,267.81 661.67,267.91 662.36,268.00 663.05,268.09 663.74,268.18 664.44,268.27 665.13,268.36 665.82,268.45 666.51,268.54 667.20,268.62 667.90,268.71 668.59,268.79 669.28,268.88 669.97,268.96 670.66,269.04 671.36,269.12 672.05,269.20 672.74,269.28 673.43,269.36 674.12,269.44 674.82,269.51 675.51,269.59 676.20,269.67 676.89,269.74 677.58,269.82 678.28,269.89 678.97,269.96 679.66,270.03 680.35,270.10 681.04,270.17 681.74,270.24 682.43,270.31 683.12,270.38 683.81,270.45 684.50,270.52 685.20,270.58 685.89,270.65 686.58,270.71 687.27,270.78 687.96,270.84 688.66,270.90 689.35,270.97 690.04,271.03" fill="none" stroke="#3A64B4" stroke-width="3.0" stroke-linejoin="round" />
<polyline points="412.55,306.00 413.24,306.00 413.93,306.00 414.62,306.00 415.32,306.00 416.01,306.00 416.70,306.00 417.39,306.00 418.08,306.00 418.78,306.00 419.47,306.00 420.16,306.00 420.85,306.00 421.54,306.00 422.24,306.00 422.93,306.00 423.62,306.00 424.31,306.00 425.00,306.00 425.70,306.00 426.39,306.00 427.08,306.00 427.77,306.00 428.46,306.00 429.16,306.00 429.85,306.00 430.54,306.00 431.23,306.00 431.92,306.00 432.62,306.00 433.31,306.00 434.00,306.00 434.69,305.99 435.38,305.98 436.08,305.97 436.77,305.94 437.46,305.89 438.15,305.80 438.84,305.66 439.54,305.41 440.23,305.02 440.92,304.41 441.61,303.49 442.30,302.13 443.00,300.19 443.69,297.49 444.38,293.84 445.07,289.04 445.76,282.92 446.46,275.32 447.15,266.16 447.84,255.41 448.53,243.18 449.22,229.64 449.92,215.08 450.61,199.88 451.30,184.47 451.99,169.31 452.68,154.84 453.38,141.45 454.07,129.44 454.76,119.04 455.45,110.36 456.14,103.38 456.84,98.04 457.53,94.18 458.22,91.61 458.91,90.12 459.60,89.50 460.30,89.56 460.99,90.12 461.68,91.04 462.37,92.22 463.06,93.57 463.76,95.02 464.45,96.53 465.14,98.08 465.83,99.64 466.52,101.20 467.22,102.76 467.91,104.31 468.60,105.85 469.29,107.38 469.98,108.90 470.68,110.40 471.37,111.88 472.06,113.36 472.75,114.82 473.44,116.27 474.14,117.70 474.83,119.13 475.52,120.54 476.21,121.93 476.90,123.32 477.60,124.69 478.29,126.05 478.98,127.40 479.67,128.73 480.36,130.06 481.06,131.37 481.75,132.67 482.44,133.96 483.13,135.23 483.82,136.50 484.52,137.75 485.21,139.00 485.90,140.23 486.59,141.45 487.28,142.66 487.98,143.86 488.67,145.04 489.36,146.22 490.05,147.39 490.74,148.54 491.44,149.69 492.13,150.83 492.82,151.95 493.51,153.07 494.20,154.17 494.90,155.27 495.59,156.35 496.28,157.43 496.97,158.50 497.66,159.55 498.36,160.60 499.05,161.64 499.74,162.67 500.43,163.69 501.12,164.70 501.82,165.70 502.51,166.69 503.20,167.67 503.89,168.65 504.58,169.61 505.28,170.57 505.97,171.52 506.66,172.46 507.35,173.39 508.04,174.32 508.74,175.23 509.43,176.14 510.12,177.04 510.81,177.93 511.50,178.81 512.20,179.68 512.89,180.55 513.58,181.41 514.27,182.26 514.96,183.11 515.66,183.94 516.35,184.77 517.04,185.59 517.73,186.41 518.42,187.21 519.12,188.01 519.81,188.80 520.50,189.59 521.19,190.37 521.88,191.14 522.58,191.90 523.27,192.66 523.96,193.41 524.65,194.15 525.34,194.89 526.04,195.62 526.73,196.35 527.42,197.06 528.11,197.77 528.80,198.48 529.50,199.18 530.19,199.87 530.88,200.56 531.57,201.24 532.26,201.91 532.96,202.58 533.65,203.24 534.34,203.89 535.03,204.54 535.72,205.19 536.42,205.83 537.11,206.46 537.80,207.09 538.49,207.71 539.18,208.32 539.88,208.93 540.57,209.54 541.26,210.14 541.95,210.73 542.64,211.32 543.34,211.90 544.03,212.48 544.72,213.05 545.41,213.62 546.10,214.18 546.80,214.74 547.49,215.30 548.18,215.84 548.87,216.39 549.56,216.92 550.26,217.46 550.95,217.99 551.64,218.51 552.33,219.03 553.02,219.54 553.72,220.05 554.41,220.56 555.10,221.06 555.79,221.55 556.48,222.04 557.18,222.53 557.87,223.01 558.56,223.49 559.25,223.97 559.94,224.44 560.64,224.90 561.33,225.36 562.02,225.82 562.71,226.28 563.40,226.72 564.10,227.17 564.79,227.61 565.48,228.05 566.17,228.48 566.86,228.91 567.56,229.34 568.25,229.76 568.94,230.18 569.63,230.59 570.32,231.00 571.02,231.41 571.71,231.81 572.40,232.21 573.09,232.61 573.78,233.00 574.48,233.39 575.17,233.78 575.86,234.16 576.55,234.54 577.24,234.91 577.94,235.28 578.63,235.65 579.32,236.02 580.01,236.38 580.70,236.74 581.40,237.09 582.09,237.45 582.78,237.79 583.47,238.14 584.16,238.48 584.86,238.82 585.55,239.16 586.24,239.49 586.93,239.82 587.62,240.15 588.32,240.48 589.01,240.80 589.70,241.12 590.39,241.43 591.08,241.75 591.78,242.06 592.47,242.37 593.16,242.67 593.85,242.97 594.54,243.27 595.24,243.57 595.93,243.86 596.62,244.16 597.31,244.45 598.00,244.73 598.70,245.02 599.39,245.30 600.08,245.58 600.77,245.85 601.46,246.13 602.16,246.40 602.85,246.67 603.54,246.93 604.23,247.20 604.92,247.46 605.62,247.72 606.31,247.97 607.00,248.23 607.69,248.48 608.38,248.73 609.08,248.98 609.77,249.23 610.46,249.47 611.15,249.71 611.84,249.95 612.54,250.19 613.23,250.42 613.92,250.66 614.61,250.89 615.30,251.11 616.00,251.34 616.69,251.57 617.38,251.79 618.07,252.01 618.76,252.23 619.46,252.44 620.15,252.66 620.84,252.87 621.53,253.08 622.22,253.29 622.92,253.50 623.61,253.70 624.30,253.91 624.99,254.11 625.68,254.31 626.38,254.51 627.07,254.70 627.76,254.90 628.45,255.09 629.14,255.28 629.84,255.47 630.53,255.66 631.22,255.84 631.91,256.03 632.60,256.21 633.30,256.39 633.99,256.57 634.68,256.75 635.37,256.93 636.06,257.10 636.76,257.27 637.45,257.44 638.14,257.61 638.83,257.78 639.52,257.95 640.22,258.11 640.91,258.28 641.60,258.44 642.29,258.60 642.98,258.76 643.68,258.92 644.37,259.08 645.06,259.23 645.75,259.39 646.44,259.54 647.14,259.69 647.83,259.84 648.52,259.99 649.21,260.13 649.90,260.28 650.60,260.42 651.29,260.57 651.98,260.71 652.67,260.85 653.36,260.99 654.06,261.13 654.75,261.27 655.44,261.40 656.13,261.54 656.82,261.67 657.52,261.80 658.21,261.93 658.90,262.06 659.59,262.19 660.28,262.32 660.98,262.44 661.67,262.57 662.36,262.69 663.05,262.82 663.74,262.94 664.44,263.06 665.13,263.18 665.82,263.30 666.51,263.41 667.20,263.53 667.90,263.64 668.59,263.76 669.28,263.87 669.97,263.98 670.66,264.10 671.36,264.21 672.05,264.32 672.74,264.42 673.43,264.53 674.12,264.64 674.82,264.74 675.51,264.85 676.20,264.95 676.89,265.05 677.58,265.16 678.28,265.26 678.97,265.36 679.66,265.46 680.35,265.55 681.04,265.65 681.74,265.75 682.43,265.84 683.12,265.94 683.81,266.03 684.50,266.12 685.20,266.22 685.89,266.31 686.58,266.40 687.27,266.49 687.96,266.58 688.66,266.66 689.35,266.75 690.04,266.84" fill="none" stroke="#555555" stroke-width="3.0" stroke-linejoin="round" />
<polyline points="485.20,80.80 566.00,80.80" stroke="#000" stroke-width="2"/>
<path d="M571.80,80.80 Q565.47,82.70 560.30,85.80 L562.80,80.80 L560.30,75.80 Q565.47,78.90 571.80,80.80Z" fill="#000"/>
<text transform="translate(514.14,69.64) scale(1.8710,1.8679)" font-family='"Noto Serif CJK SC", "Liberation Serif", serif' font-size="20.00" stroke="#E2141E" stroke-width="0.428" stroke-linejoin="round" fill="#E2141E">τ</text>
<text transform="translate(469.97,245.90) scale(1.3900,1.4535)" font-family='"Liberation Sans", Arial, sans-serif' font-size="20.00" fill="#E2141E">Δ</text>
<text transform="translate(488.27,245.90) scale(1.6359,1.6134)" font-family='"Liberation Sans", Arial, sans-serif' font-size="20.00" fill="#E2141E">T</text>
<text transform="translate(577.59,228.50) scale(0.9424,1.0000)" font-family='"Liberation Sans", Arial, sans-serif' font-size="24.00" font-weight="bold" fill="#E2141E">P</text>
<text transform="translate(593.07,229.60) scale(1.1385,1.0000)" font-family='"Liberation Sans", Arial, sans-serif' font-size="13.50" font-weight="bold" fill="#E2141E">2</text>
<text transform="translate(608.02,228.50) scale(0.9723,1.0000)" font-family='"Liberation Sans", Arial, sans-serif' font-size="24.00" fill="#E2141E">off</text>
<text transform="translate(577.59,283.80) scale(0.9424,1.0000)" font-family='"Liberation Sans", Arial, sans-serif' font-size="24.00" font-weight="bold" fill="#E2141E">P</text>
<text transform="translate(593.07,284.90) scale(1.1385,1.0000)" font-family='"Liberation Sans", Arial, sans-serif' font-size="13.50" font-weight="bold" fill="#E2141E">2</text>
<text transform="translate(606.95,283.60) scale(1.0624,1.0000)" font-family='"Liberation Sans", Arial, sans-serif' font-size="23.50" fill="#E2141E">on</text>
<text transform="translate(731.31,18.00)" font-family='"Liberation Sans", Arial, sans-serif' font-size="24.00" fill="#000">(c)</text>
<rect x="759.3" y="32.9" width="284.4" height="284.5" fill="none" stroke="#000" stroke-width="2.3"/>
<line x1="789.00" y1="318.00" x2="789.00" y2="327.60" stroke="#000" stroke-width="2.1" stroke-linecap="round"/>
<text transform="translate(774.20,353.00)" font-family='"Liberation Sans", Arial, sans-serif' font-size="21.30" fill="#000">0.0</text>
<line x1="851.45" y1="318.00" x2="851.45" y2="327.60" stroke="#000" stroke-width="2.1" stroke-linecap="round"/>
<text transform="translate(836.68,353.00)" font-family='"Liberation Sans", Arial, sans-serif' font-size="21.30" fill="#000">0.5</text>
<line x1="913.90" y1="318.00" x2="913.90" y2="327.60" stroke="#000" stroke-width="2.1" stroke-linecap="round"/>
<text transform="translate(898.49,353.00) scale(0.2130,0.2130)" font-family='"Liberation Sans", Arial, sans-serif' font-size="100" fill="#000" clip-path="url(#c1)">1</text>
<text transform="translate(898.49,353.00)" font-family='"Liberation Sans", Arial, sans-serif' font-size="21.30" fill="#000"><tspan x="11.85">.0</tspan></text>
<line x1="976.35" y1="318.00" x2="976.35" y2="327.60" stroke="#000" stroke-width="2.1" stroke-linecap="round"/>
<text transform="translate(960.97,353.00) scale(0.2130,0.2130)" font-family='"Liberation Sans", Arial, sans-serif' font-size="100" fill="#000" clip-path="url(#c1)">1</text>
<text transform="translate(960.97,353.00)" font-family='"Liberation Sans", Arial, sans-serif' font-size="21.30" fill="#000"><tspan x="11.85">.5</tspan></text>
<line x1="1038.80" y1="318.00" x2="1038.80" y2="327.60" stroke="#000" stroke-width="2.1" stroke-linecap="round"/>
<text transform="translate(1023.88,353.00)" font-family='"Liberation Sans", Arial, sans-serif' font-size="21.30" fill="#000">2.0</text>
<text transform="translate(827.67,378.90) scale(0.9896,1.0000)" font-family='"Liberation Sans", Arial, sans-serif' font-size="21.30" fill="#000">Delay time</text>
<text transform="translate(932.72,379.13) scale(0.9247,0.9057)" font-family='"Noto Serif CJK SC", "Liberation Serif", serif' font-size="20.00" stroke="#000" stroke-width="0.437" stroke-linejoin="round" fill="#000">τ</text>
<text transform="translate(948.48,378.90)" font-family='"Liberation Sans", Arial, sans-serif' font-size="21.30" fill="#000">(ps)</text>
<text transform="translate(748.30,230.72) rotate(-90) scale(1.0813,1)" font-family='"Liberation Sans", Arial, sans-serif' font-size="22.50" fill="#000">ΔΔ Abs.</text>
<text transform="translate(852.40,96.90) scale(0.9953,1.0000)" font-family='"Liberation Sans", Arial, sans-serif' font-size="21.30" fill="#000">Osc. component</text>
<line x1="760.50" y1="126.90" x2="1039.50" y2="126.90" stroke="#000" stroke-width="1.0" />
<polyline points="760.50,126.90 788.00,126.90 789.00,236.00 790.50,37.50 791.40,166.88 792.20,155.42 793.00,71.95 793.80,141.94 794.60,171.98 795.40,94.10 796.20,136.77 797.00,162.09 797.80,95.23 798.60,122.27 799.40,170.32 800.20,120.49 801.00,93.36 801.80,153.56 802.60,153.12 803.40,82.01 804.20,126.60 805.00,139.60 805.80,116.82 806.60,133.10 807.40,157.19 808.20,109.42 809.00,121.49 809.80,168.49 810.60,126.54 811.40,89.91 812.20,158.66 813.00,155.81 813.80,115.22 814.60,127.08 815.40,147.61 816.20,137.72 817.00,124.92 817.80,147.34 818.60,142.59 819.40,117.07 820.20,149.40 821.00,149.63 821.80,116.28 822.60,127.71 823.40,155.74 824.20,136.08 825.00,110.77 825.80,148.53 826.60,151.28 827.40,111.05 828.20,138.91 829.00,155.81 829.80,125.75 830.60,123.37 831.40,152.49 832.20,132.06 833.00,121.41 833.80,160.11 834.60,144.96 835.40,122.65 836.20,140.97 837.00,145.86 837.80,115.79 838.60,129.35 839.40,142.40 840.20,128.97 841.00,123.30 841.80,142.92 842.60,139.99 843.40,112.33 844.20,132.62 845.00,143.60 845.80,105.09 846.60,132.91 847.40,147.94 848.20,118.91 849.00,124.82 849.80,145.60 850.60,128.97 851.40,116.50 852.20,138.02 853.00,141.19 853.80,116.41 854.60,120.88 855.40,141.03 856.20,128.45 857.00,112.90 857.80,135.39 858.60,125.98 859.40,120.70 860.20,145.23 861.00,134.80 861.80,112.77 862.60,125.16 863.40,148.27 864.20,122.29 865.00,113.04 865.80,131.31 866.60,136.45 867.40,110.92 868.20,114.44 869.00,130.54 869.80,119.86 870.60,128.23 871.40,135.55 872.20,116.55 873.00,122.44 873.80,135.64 874.60,124.19 875.40,113.84 876.20,132.19 877.00,136.76 877.80,117.44 878.60,118.98 879.40,135.09 880.20,121.95 881.00,117.94 881.80,135.02 882.60,120.61 883.40,118.67 884.20,131.58 885.00,128.82 885.80,115.66 886.60,126.43 887.40,131.46 888.20,118.16 889.00,120.18 889.80,132.50 890.60,128.14 891.40,112.78 892.20,132.84 893.00,132.06 893.80,114.34 894.60,126.51 895.40,136.15 896.20,117.59 897.00,123.50 897.80,137.63 898.60,121.93 899.40,117.76 900.20,131.64 901.00,129.14 901.80,115.82 902.60,128.82 903.40,130.87 904.20,117.84 905.00,122.38 905.80,135.12 906.60,121.27 907.40,122.89 908.20,134.34 909.00,122.31 909.80,121.14 910.60,131.42 911.40,127.01 912.20,119.35 913.00,129.10 913.80,131.87 914.60,119.05 915.40,124.61 916.20,132.00 917.00,124.72 917.80,123.21 918.60,129.60 919.40,126.02 920.20,121.48 921.00,129.71 921.80,127.57 922.60,120.50 923.40,127.14 924.20,133.05 925.00,122.18 925.80,122.15 926.60,131.68 927.40,128.39 928.20,120.88 929.00,125.80 929.80,131.72 930.60,123.78 931.40,127.12 932.20,127.84 933.00,122.70 933.80,126.47 934.60,131.11 935.40,124.02 936.20,122.40 937.00,130.63 937.80,129.86 938.60,123.10 939.40,126.14 940.20,128.83 941.00,123.99 941.80,126.48 942.60,129.10 943.40,124.39 944.20,126.81 945.00,131.79 945.80,126.36 946.60,123.77 947.40,127.95 948.20,129.30 949.00,124.02 949.80,125.49 950.60,129.63 951.40,127.65 952.20,124.60 953.00,128.76 953.80,128.05 954.60,122.25 955.40,126.31 956.20,128.89 957.00,125.05 957.80,125.18 958.60,127.55 959.40,125.35 960.20,123.79 961.00,127.94 961.80,128.35 962.60,124.13 963.40,125.51 964.20,128.30 965.00,125.59 965.80,122.43 966.60,128.07 967.40,129.09 968.20,122.34 969.00,127.18 969.80,128.16 970.60,123.66 971.40,125.66 972.20,127.28 973.00,125.14 973.80,125.92 974.60,128.85 975.40,126.03 976.20,125.80 977.00,127.47 977.80,127.92 978.60,124.95 979.40,126.52 980.20,127.76 981.00,125.37 981.80,126.46 982.60,127.65 983.40,126.06 984.20,126.19 985.00,128.22 985.80,126.45 986.60,124.57 987.40,127.47 988.20,127.67 989.00,124.32 989.80,125.63 990.60,129.02 991.40,127.05 992.20,123.47 993.00,126.99 993.80,129.15 994.60,125.04 995.40,127.11 996.20,127.95 997.00,124.34 997.80,126.95 998.60,129.32 999.40,126.06 1000.20,124.88 1001.00,128.15 1001.80,127.67 1002.60,124.62 1003.40,125.49 1004.20,129.71 1005.00,125.88 1005.80,124.50 1006.60,129.60 1007.40,126.93 1008.20,125.57 1009.00,128.92 1009.80,126.63 1010.60,124.88 1011.40,127.83 1012.20,127.75 1013.00,124.87 1013.80,126.10 1014.60,129.07 1015.40,125.88 1016.20,125.94 1017.00,127.94 1017.80,126.82 1018.60,126.22 1019.40,127.71 1020.20,127.33 1021.00,124.56 1021.80,127.80 1022.60,129.14 1023.40,125.36 1024.20,126.25 1025.00,128.86 1025.80,126.52 1026.60,125.85 1027.40,127.84 1028.20,127.82 1029.00,125.59 1029.80,127.14 1030.60,128.69 1031.40,125.67 1032.20,126.21 1033.00,128.54 1033.80,126.21 1034.60,126.16 1035.40,128.26 1036.20,126.58 1037.00,125.71 1037.80,127.91 1038.60,127.78 1039.40,124.60" fill="none" stroke="#3A64B4" stroke-width="1.6" stroke-linejoin="round" />
<polyline points="789.00,236.00 789.50,306.00 790.30,272.00 790.60,282.30 791.40,296.03 792.20,281.35 793.00,272.61 793.80,281.68 794.60,288.08 795.40,274.33 796.20,279.99 797.00,276.08 797.80,273.02 798.60,273.95 799.40,280.02 800.20,272.65 801.00,264.97 801.80,276.03 802.60,273.11 803.40,260.67 804.20,268.03 805.00,278.45 805.80,264.51 806.60,264.23 807.40,271.54 808.20,268.90 809.00,260.25 809.80,269.24 810.60,263.99 811.40,257.98 812.20,264.70 813.00,263.73 813.80,258.11 814.60,260.22 815.40,263.82 816.20,257.71 817.00,253.46 817.80,263.01 818.60,258.90 819.40,252.18 820.20,257.67 821.00,261.35 821.80,256.42 822.60,253.85 823.40,255.26 824.20,253.32 825.00,251.92 825.80,253.30 826.60,249.63 827.40,248.33 828.20,251.99 829.00,248.62 829.80,243.25 830.60,249.29 831.40,249.50 832.20,244.95 833.00,245.46 833.80,248.58 834.60,243.87 835.40,243.87 836.20,245.51 837.00,242.65 837.80,238.96 838.60,245.76 839.40,243.91 840.20,237.02 841.00,239.65 841.80,243.55 842.60,239.42 843.40,234.77 844.20,239.35 845.00,238.88 845.80,237.94 846.60,238.04 847.40,237.32 848.20,235.32 849.00,237.42 849.80,235.96 850.60,232.59 851.40,234.10 852.20,235.77 853.00,233.23 853.80,229.95 854.60,234.25 855.40,233.95 856.20,230.19 857.00,230.50 857.80,228.96 858.60,229.57 859.40,228.83 860.20,229.21 861.00,227.48 861.80,227.07 862.60,227.29 863.40,226.26 864.20,223.87 865.00,226.55 865.80,225.95 866.60,222.87 867.40,222.05 868.20,226.10 869.00,223.36 869.80,222.68 870.60,224.37 871.40,222.21 872.20,219.70 873.00,221.10 873.80,220.24 874.60,218.81 875.40,220.06 876.20,219.45 877.00,218.47 877.80,216.39 878.60,219.45 879.40,218.52 880.20,215.87 881.00,216.41 881.80,217.27 882.60,215.81 883.40,213.92 884.20,215.35 885.00,216.29 885.80,215.58 886.60,214.96 887.40,214.00 888.20,212.55 889.00,214.14 889.80,212.98 890.60,211.47 891.40,211.22 892.20,212.23 893.00,210.98 893.80,209.87 894.60,209.67 895.40,210.19 896.20,210.69 897.00,208.99 897.80,208.65 898.60,208.51 899.40,208.78 900.20,207.57 901.00,206.53 901.80,207.09 902.60,207.92 903.40,206.51 904.20,205.46 905.00,205.58 905.80,206.51 906.60,203.99 907.40,204.57 908.20,204.18 909.00,203.76 909.80,202.62 910.60,204.01 911.40,203.47 912.20,202.51 913.00,201.97 913.80,203.06 914.60,200.44 915.40,200.64 916.20,202.66 917.00,200.05 917.80,198.06 918.60,200.60 919.40,200.00 920.20,198.20 921.00,198.97 921.80,199.73 922.60,199.03 923.40,197.87 924.20,197.66 925.00,196.92 925.80,196.67 926.60,197.35 927.40,196.73 928.20,195.19 929.00,196.02 929.80,196.88 930.60,194.53 931.40,195.25 932.20,195.98 933.00,194.66 933.80,194.02 934.60,195.29 935.40,193.83 936.20,193.31 937.00,194.38 937.80,192.45 938.60,191.57 939.40,193.16 940.20,193.38 941.00,190.18 941.80,191.88 942.60,193.01 943.40,190.58 944.20,189.07 945.00,191.30 945.80,191.02 946.60,189.05 947.40,190.11 948.20,190.04 949.00,188.94 949.80,188.90 950.60,189.82 951.40,188.43 952.20,188.71 953.00,188.89 953.80,188.01 954.60,186.29 955.40,188.05 956.20,187.65 957.00,186.29 957.80,186.46 958.60,186.66 959.40,185.79 960.20,185.82 961.00,185.52 961.80,184.68 962.60,184.93 963.40,186.07 964.20,184.83 965.00,183.13 965.80,184.82 966.60,185.33 967.40,183.47 968.20,183.48 969.00,184.12 969.80,183.47 970.60,182.52 971.40,183.07 972.20,182.48 973.00,182.52 973.80,182.97 974.60,182.81 975.40,180.89 976.20,182.18 977.00,182.29 977.80,180.72 978.60,181.17 979.40,181.96 980.20,180.95 981.00,179.71 981.80,180.40 982.60,181.07 983.40,179.59 984.20,179.00 985.00,179.68 985.80,179.22 986.60,179.14 987.40,179.75 988.20,178.71 989.00,178.45 989.80,178.46 990.60,178.80 991.40,178.21 992.20,177.95 993.00,178.18 993.80,177.57 994.60,177.60 995.40,176.89 996.20,176.98 997.00,176.98 997.80,176.96 998.60,176.10 999.40,176.14 1000.20,176.42 1001.00,176.15 1001.80,175.16 1002.60,175.18 1003.40,176.02 1004.20,175.42 1005.00,174.24 1005.80,175.07 1006.60,175.34 1007.40,173.99 1008.20,174.30 1009.00,174.22 1009.80,174.35 1010.60,174.47 1011.40,174.60 1012.20,173.44 1013.00,173.33 1013.80,173.72 1014.60,173.48 1015.40,172.83 1016.20,172.35 1017.00,173.69 1017.80,172.45 1018.60,172.11 1019.40,172.56 1020.20,172.39 1021.00,171.66 1021.80,171.77 1022.60,171.96 1023.40,171.61 1024.20,171.12 1025.00,170.81 1025.80,171.14 1026.60,170.97 1027.40,171.23 1028.20,170.66 1029.00,170.27 1029.80,170.46 1030.60,170.50 1031.40,169.68 1032.20,170.02 1033.00,169.83 1033.80,169.98 1034.60,169.19 1035.40,169.31 1036.20,169.49 1037.00,168.95 1037.80,169.12 1038.60,168.78 1039.40,168.36" fill="none" stroke="#3A64B4" stroke-width="1.6" stroke-linejoin="round" />
<text transform="translate(864.57,266.90) scale(0.9563,1.0000)" font-family='"Liberation Sans", Arial, sans-serif' font-size="25.50" font-weight="bold" fill="#E2141E">P</text>
<text transform="translate(880.88,268.00) scale(0.9970,1.0000)" font-family='"Liberation Sans", Arial, sans-serif' font-size="15.00" font-weight="bold" fill="#E2141E">2</text>
<text transform="translate(895.06,266.90) scale(0.9907,1.0000)" font-family='"Liberation Sans", Arial, sans-serif' font-size="25.00" fill="#E2141E">on</text>
<text transform="translate(928.84,266.90) scale(1.0486,1.0000)" font-family='"Liberation Sans", Arial, sans-serif' font-size="25.00" fill="#E2141E">-</text>
<text transform="translate(944.34,266.90) scale(0.9147,1.0000)" font-family='"Liberation Sans", Arial, sans-serif' font-size="25.50" font-weight="bold" fill="#E2141E">P</text>
<text transform="translate(959.85,268.00) scale(1.0662,1.0000)" font-family='"Liberation Sans", Arial, sans-serif' font-size="15.00" font-weight="bold" fill="#E2141E">2</text>
<text transform="translate(974.37,266.90) scale(0.9783,1.0000)" font-family='"Liberation Sans", Arial, sans-serif' font-size="25.00" fill="#E2141E">off</text>
<text transform="translate(1085.16,18.00) scale(1.0358,1.0000)" font-family='"Liberation Sans", Arial, sans-serif' font-size="24.00" fill="#000">(d)</text>
<rect x="1113.4" y="33.5" width="285.1" height="284.4" fill="#F7F4E3" stroke="#000" stroke-width="2.1"/>
<line x1="1117.60" y1="318.50" x2="1117.60" y2="328.40" stroke="#000" stroke-width="2.1" stroke-linecap="round"/>
<text transform="translate(1111.68,354.20)" font-family='"Liberation Sans", Arial, sans-serif' font-size="21.30" fill="#000">0</text>
<line x1="1194.60" y1="318.50" x2="1194.60" y2="328.40" stroke="#000" stroke-width="2.1" stroke-linecap="round"/>
<text transform="translate(1176.82,354.20)" font-family='"Liberation Sans", Arial, sans-serif' font-size="21.30" fill="#000">500</text>
<line x1="1271.60" y1="318.50" x2="1271.60" y2="328.40" stroke="#000" stroke-width="2.1" stroke-linecap="round"/>
<text transform="translate(1247.30,354.20) scale(0.2130,0.2130)" font-family='"Liberation Sans", Arial, sans-serif' font-size="100" fill="#000" clip-path="url(#c1)">1</text>
<text transform="translate(1247.30,354.20)" font-family='"Liberation Sans", Arial, sans-serif' font-size="21.30" fill="#000"><tspan x="11.85">000</tspan></text>
<line x1="1348.60" y1="318.50" x2="1348.60" y2="328.40" stroke="#000" stroke-width="2.1" stroke-linecap="round"/>
<text transform="translate(1324.30,354.20) scale(0.2130,0.2130)" font-family='"Liberation Sans", Arial, sans-serif' font-size="100" fill="#000" clip-path="url(#c1)">1</text>
<text transform="translate(1324.30,354.20)" font-family='"Liberation Sans", Arial, sans-serif' font-size="21.30" fill="#000"><tspan x="11.85">500</tspan></text>
<text transform="translate(1170.81,379.10) scale(0.9912,1.0000)" font-family='"Liberation Sans", Arial, sans-serif' font-size="21.30" fill="#000">Wavenumber (cm</text>
<text transform="translate(1341.66,371.70) scale(0.1337,0.1050)" font-family='"Liberation Sans", Arial, sans-serif' font-size="100" fill="#000" clip-path="url(#c1)">1</text>
<text transform="translate(1337.21,371.70) scale(1.2731,1.0000)" font-family='"Liberation Sans", Arial, sans-serif' font-size="10.50" fill="#000"><tspan x="0.00">-</tspan></text>
<text transform="translate(1347.67,379.10) scale(1.0270,1.0000)" font-family='"Liberation Sans", Arial, sans-serif' font-size="21.30" fill="#000">)</text>
<text transform="translate(1101.44,233.45) rotate(-90) scale(0.9709,1)" font-family='"Liberation Sans", Arial, sans-serif' font-size="22.00" fill="#000">FT power</text>
<polygon points="1117.60,314.00 1117.60,313.67 1117.75,313.70 1117.91,313.96 1118.06,313.98 1118.22,314.09 1118.37,313.91 1118.52,313.53 1118.68,313.62 1118.83,313.57 1118.99,313.59 1119.14,313.69 1119.29,313.45 1119.45,313.34 1119.60,313.24 1119.76,313.54 1119.91,313.58 1120.06,313.50 1120.22,313.23 1120.37,313.04 1120.53,312.94 1120.68,312.87 1120.83,312.82 1120.99,312.49 1121.14,312.60 1121.30,312.54 1121.45,312.33 1121.60,312.57 1121.76,312.58 1121.91,312.26 1122.07,312.00 1122.22,311.85 1122.37,311.74 1122.53,311.70 1122.68,310.97 1122.84,310.42 1122.99,309.34 1123.14,307.53 1123.30,305.10 1123.45,301.89 1123.61,297.66 1123.76,292.21 1123.91,285.11 1124.07,277.55 1124.22,269.30 1124.38,261.21 1124.53,254.31 1124.68,249.64 1124.84,247.43 1124.99,247.58 1125.15,250.56 1125.30,255.59 1125.45,262.08 1125.61,268.50 1125.76,274.99 1125.92,280.28 1126.07,284.41 1126.22,287.78 1126.38,290.18 1126.53,292.00 1126.69,292.85 1126.84,293.69 1126.99,294.31 1127.15,294.16 1127.30,294.44 1127.46,295.29 1127.61,295.61 1127.76,296.18 1127.92,296.83 1128.07,297.50 1128.23,298.25 1128.38,299.00 1128.53,300.27 1128.69,301.25 1128.84,301.97 1129.00,302.99 1129.15,304.31 1129.30,304.97 1129.46,306.03 1129.61,306.65 1129.77,307.37 1129.92,307.95 1130.07,308.94 1130.23,309.68 1130.38,310.30 1130.54,310.38 1130.69,311.24 1130.84,311.81 1131.00,312.28 1131.15,312.68 1131.31,312.88 1131.46,313.15 1131.61,313.44 1131.77,313.47 1131.92,313.59 1132.08,313.38 1132.23,313.34 1132.38,313.40 1132.54,313.44 1132.69,313.58 1132.85,313.33 1133.00,313.23 1133.15,313.23 1133.31,313.42 1133.46,313.46 1133.62,313.47 1133.77,313.09 1133.92,312.93 1134.08,312.70 1134.23,313.09 1134.39,313.03 1134.54,313.14 1134.69,313.05 1134.85,313.43 1135.00,313.31 1135.16,313.51 1135.31,313.89 1135.46,314.22 1135.62,314.05 1135.77,314.00 1135.93,313.84 1136.08,313.64 1136.23,313.36 1136.39,313.41 1136.54,313.54 1136.70,313.13 1136.85,312.90 1137.00,312.61 1137.16,312.76 1137.31,312.87 1137.47,313.25 1137.62,313.03 1137.77,313.04 1137.93,313.10 1138.08,313.40 1138.24,313.43 1138.39,313.71 1138.54,313.69 1138.70,313.60 1138.85,313.16 1139.01,313.39 1139.16,313.56 1139.31,313.67 1139.47,313.79 1139.62,313.78 1139.78,313.57 1139.93,313.45 1140.08,313.46 1140.24,313.78 1140.39,313.72 1140.55,313.85 1140.70,313.76 1140.85,313.56 1141.01,313.73 1141.16,313.91 1141.32,314.02 1141.47,314.11 1141.62,314.00 1141.78,314.07 1141.93,313.89 1142.09,313.71 1142.24,313.64 1142.39,313.30 1142.55,313.52 1142.70,313.29 1142.86,313.30 1143.01,313.39 1143.16,313.22 1143.32,313.05 1143.47,313.01 1143.63,313.07 1143.78,313.08 1143.93,312.83 1144.09,312.95 1144.24,312.77 1144.40,312.85 1144.55,312.67 1144.70,312.66 1144.86,312.50 1145.01,312.51 1145.17,312.76 1145.32,312.68 1145.47,312.54 1145.63,312.70 1145.78,312.55 1145.94,312.81 1146.09,312.70 1146.24,313.03 1146.40,312.84 1146.55,312.80 1146.71,312.87 1146.86,312.95 1147.01,312.90 1147.17,312.75 1147.32,312.38 1147.48,312.30 1147.63,311.79 1147.78,311.30 1147.94,310.70 1148.09,310.01 1148.25,309.36 1148.40,308.80 1148.55,308.09 1148.71,307.91 1148.86,307.37 1149.02,307.14 1149.17,307.09 1149.32,307.25 1149.48,307.71 1149.63,308.08 1149.79,308.50 1149.94,309.24 1150.09,309.60 1150.25,310.29 1150.40,310.84 1150.56,311.57 1150.71,311.98 1150.86,312.49 1151.02,312.83 1151.17,313.13 1151.33,313.12 1151.48,313.08 1151.63,313.42 1151.79,313.45 1151.94,313.40 1152.10,313.56 1152.25,313.22 1152.40,313.28 1152.56,313.37 1152.71,313.56 1152.87,313.75 1153.02,313.46 1153.17,313.63 1153.33,313.51 1153.48,313.24 1153.64,313.42 1153.79,313.39 1153.94,313.09 1154.10,313.04 1154.25,312.65 1154.41,312.47 1154.56,312.23 1154.71,312.14 1154.87,311.91 1155.02,311.02 1155.18,310.45 1155.33,309.83 1155.48,309.01 1155.64,308.53 1155.79,307.47 1155.95,306.63 1156.10,305.69 1156.25,305.06 1156.41,304.90 1156.56,304.91 1156.72,304.81 1156.87,305.30 1157.02,305.89 1157.18,307.06 1157.33,307.86 1157.49,308.65 1157.64,309.27 1157.79,309.91 1157.95,310.17 1158.10,310.82 1158.26,311.22 1158.41,311.45 1158.56,311.52 1158.72,311.65 1158.87,311.79 1159.03,311.88 1159.18,312.04 1159.33,312.32 1159.49,312.36 1159.64,312.13 1159.80,312.28 1159.95,312.37 1160.10,312.34 1160.26,312.23 1160.41,312.58 1160.57,312.47 1160.72,312.14 1160.87,312.19 1161.03,312.06 1161.18,311.75 1161.34,311.58 1161.49,311.29 1161.64,311.42 1161.80,311.01 1161.95,310.62 1162.11,310.78 1162.26,310.38 1162.41,310.64 1162.57,310.72 1162.72,310.84 1162.88,311.41 1163.03,311.54 1163.18,311.70 1163.34,312.35 1163.49,312.63 1163.65,313.02 1163.80,313.27 1163.95,313.77 1164.11,313.98 1164.26,313.65 1164.42,313.71 1164.57,313.66 1164.72,313.34 1164.88,313.18 1165.03,313.40 1165.19,313.50 1165.34,313.28 1165.49,313.07 1165.65,313.14 1165.80,312.99 1165.96,313.16 1166.11,313.29 1166.26,313.32 1166.42,313.17 1166.57,313.11 1166.73,313.24 1166.88,313.34 1167.03,313.41 1167.19,313.49 1167.34,313.19 1167.50,313.08 1167.65,312.44 1167.80,312.06 1167.96,311.75 1168.11,311.19 1168.27,310.84 1168.42,310.55 1168.57,310.04 1168.73,310.05 1168.88,310.30 1169.04,310.50 1169.19,310.68 1169.34,310.42 1169.50,310.72 1169.65,311.09 1169.81,310.98 1169.96,311.50 1170.11,311.61 1170.27,311.23 1170.42,311.56 1170.58,311.72 1170.73,312.12 1170.88,312.11 1171.04,312.23 1171.19,312.51 1171.35,312.42 1171.50,312.25 1171.65,312.59 1171.81,312.81 1171.96,312.77 1172.12,312.89 1172.27,313.01 1172.42,312.93 1172.58,312.88 1172.73,313.07 1172.89,313.42 1173.04,313.74 1173.19,313.75 1173.35,313.66 1173.50,313.71 1173.66,313.85 1173.81,314.04 1173.96,314.13 1174.12,314.03 1174.27,314.18 1174.43,313.75 1174.58,313.61 1174.73,313.72 1174.89,313.72 1175.04,313.39 1175.20,313.18 1175.35,313.28 1175.50,313.38 1175.66,313.25 1175.81,313.23 1175.97,313.31 1176.12,313.27 1176.27,313.10 1176.43,313.16 1176.58,313.11 1176.74,313.10 1176.89,313.29 1177.04,313.22 1177.20,313.23 1177.35,313.18 1177.51,313.25 1177.66,313.39 1177.81,313.62 1177.97,313.86 1178.12,313.67 1178.28,313.39 1178.43,313.50 1178.58,313.79 1178.74,313.83 1178.89,313.71 1179.05,313.59 1179.20,313.63 1179.35,313.32 1179.51,313.31 1179.66,313.20 1179.82,313.03 1179.97,312.70 1180.12,312.60 1180.28,312.69 1180.43,312.86 1180.59,312.56 1180.74,312.72 1180.89,312.64 1181.05,313.05 1181.20,313.06 1181.36,313.08 1181.51,313.20 1181.66,313.25 1181.82,313.04 1181.97,313.17 1182.13,313.27 1182.28,313.56 1182.43,313.15 1182.59,313.07 1182.74,313.19 1182.90,313.13 1183.05,313.17 1183.20,313.13 1183.36,313.35 1183.51,313.45 1183.67,313.42 1183.82,313.70 1183.97,313.95 1184.13,313.95 1184.28,313.90 1184.44,314.07 1184.59,314.10 1184.74,314.19 1184.90,313.94 1185.05,314.17 1185.21,314.19 1185.36,314.02 1185.51,314.09 1185.67,314.26 1185.82,314.18 1185.98,314.22 1186.13,313.99 1186.28,314.06 1186.44,313.71 1186.59,313.63 1186.75,313.78 1186.90,313.80 1187.05,313.53 1187.21,313.34 1187.36,313.23 1187.52,313.22 1187.67,313.24 1187.82,313.26 1187.98,313.22 1188.13,313.04 1188.29,312.87 1188.44,313.12 1188.59,313.26 1188.75,313.45 1188.90,313.21 1189.06,312.84 1189.21,312.96 1189.36,312.91 1189.52,313.32 1189.67,313.38 1189.83,313.29 1189.98,313.42 1190.13,313.29 1190.29,313.73 1190.44,314.10 1190.60,314.06 1190.75,314.23 1190.90,313.80 1191.06,313.68 1191.21,313.86 1191.37,313.90 1191.52,313.92 1191.67,313.70 1191.83,313.83 1191.98,313.88 1192.14,313.71 1192.29,313.84 1192.44,313.86 1192.60,313.61 1192.75,313.17 1192.91,313.05 1193.06,312.94 1193.21,312.61 1193.37,312.37 1193.52,312.24 1193.68,312.36 1193.83,312.33 1193.98,312.34 1194.14,312.32 1194.29,312.45 1194.45,312.42 1194.60,312.45 1194.75,312.33 1194.91,312.30 1195.06,312.03 1195.22,311.93 1195.37,311.75 1195.52,311.60 1195.68,311.15 1195.83,310.58 1195.99,309.56 1196.14,308.87 1196.29,307.70 1196.45,306.32 1196.60,304.76 1196.76,303.29 1196.91,301.92 1197.06,300.64 1197.22,299.72 1197.37,299.70 1197.53,300.02 1197.68,301.03 1197.83,302.20 1197.99,303.59 1198.14,304.93 1198.30,306.30 1198.45,307.60 1198.60,308.99 1198.76,310.01 1198.91,310.76 1199.07,311.21 1199.22,311.74 1199.37,312.43 1199.53,312.57 1199.68,312.54 1199.84,312.76 1199.99,312.67 1200.14,312.67 1200.30,312.58 1200.45,312.86 1200.61,312.68 1200.76,312.60 1200.91,312.61 1201.07,312.84 1201.22,312.88 1201.38,312.96 1201.53,312.88 1201.68,313.11 1201.84,312.96 1201.99,313.25 1202.15,313.41 1202.30,313.40 1202.45,313.32 1202.61,313.26 1202.76,313.06 1202.92,313.29 1203.07,313.15 1203.22,312.82 1203.38,312.57 1203.53,312.57 1203.69,313.11 1203.84,313.22 1203.99,312.94 1204.15,313.01 1204.30,312.71 1204.46,312.39 1204.61,312.48 1204.76,312.29 1204.92,311.54 1205.07,310.65 1205.23,310.07 1205.38,309.91 1205.53,309.40 1205.69,309.08 1205.84,308.71 1206.00,308.04 1206.15,308.10 1206.30,308.56 1206.46,308.85 1206.61,309.10 1206.77,309.19 1206.92,309.46 1207.07,309.87 1207.23,310.51 1207.38,311.01 1207.54,311.36 1207.69,311.16 1207.84,311.35 1208.00,311.45 1208.15,311.60 1208.31,311.69 1208.46,311.46 1208.61,311.40 1208.77,311.36 1208.92,310.95 1209.08,310.68 1209.23,309.99 1209.38,309.52 1209.54,308.96 1209.69,308.29 1209.85,307.45 1210.00,306.12 1210.15,305.14 1210.31,303.84 1210.46,302.81 1210.62,302.18 1210.77,301.78 1210.92,301.44 1211.08,301.44 1211.23,302.23 1211.39,303.03 1211.54,303.73 1211.69,305.00 1211.85,306.13 1212.00,306.87 1212.16,307.54 1212.31,308.62 1212.46,309.51 1212.62,309.95 1212.77,310.67 1212.93,311.65 1213.08,311.93 1213.23,312.34 1213.39,312.84 1213.54,313.18 1213.70,313.05 1213.85,313.18 1214.00,313.34 1214.16,313.30 1214.31,312.84 1214.47,313.03 1214.62,312.79 1214.77,312.81 1214.93,312.89 1215.08,312.82 1215.24,312.91 1215.39,312.69 1215.54,312.84 1215.70,312.99 1215.85,313.12 1216.01,313.43 1216.16,313.33 1216.31,313.25 1216.47,313.46 1216.62,313.41 1216.78,313.50 1216.93,313.63 1217.08,313.84 1217.24,313.70 1217.39,313.71 1217.55,313.95 1217.70,313.99 1217.85,314.01 1218.01,313.99 1218.16,313.83 1218.32,313.51 1218.47,313.19 1218.62,313.18 1218.78,313.13 1218.93,313.23 1219.09,313.27 1219.24,313.53 1219.39,313.58 1219.55,313.70 1219.70,313.61 1219.86,313.65 1220.01,313.76 1220.16,313.62 1220.32,313.53 1220.47,313.37 1220.63,313.10 1220.78,312.90 1220.93,312.65 1221.09,312.74 1221.24,312.55 1221.40,312.40 1221.55,312.50 1221.70,312.21 1221.86,312.08 1222.01,312.12 1222.17,312.22 1222.32,312.74 1222.47,312.88 1222.63,313.06 1222.78,313.07 1222.94,313.09 1223.09,313.43 1223.24,313.59 1223.40,313.38 1223.55,313.28 1223.71,313.02 1223.86,313.13 1224.01,312.97 1224.17,312.91 1224.32,312.79 1224.48,312.43 1224.63,312.68 1224.78,312.68 1224.94,312.63 1225.09,312.41 1225.25,311.79 1225.40,311.62 1225.55,311.42 1225.71,310.88 1225.86,310.24 1226.02,309.05 1226.17,308.17 1226.32,307.18 1226.48,305.79 1226.63,304.46 1226.79,302.99 1226.94,301.45 1227.09,299.74 1227.25,299.07 1227.40,298.39 1227.56,297.60 1227.71,297.63 1227.86,298.44 1228.02,299.82 1228.17,301.01 1228.33,302.47 1228.48,304.24 1228.63,305.28 1228.79,306.74 1228.94,308.13 1229.10,309.34 1229.25,310.34 1229.40,310.89 1229.56,311.70 1229.71,311.90 1229.87,312.15 1230.02,312.47 1230.17,312.60 1230.33,312.94 1230.48,312.91 1230.64,312.80 1230.79,312.90 1230.94,312.85 1231.10,312.97 1231.25,313.25 1231.41,313.13 1231.56,313.23 1231.71,313.18 1231.87,312.96 1232.02,313.24 1232.18,313.23 1232.33,313.52 1232.48,313.59 1232.64,313.69 1232.79,313.86 1232.95,313.80 1233.10,313.80 1233.25,313.79 1233.41,313.61 1233.56,313.52 1233.72,313.31 1233.87,313.28 1234.02,313.19 1234.18,313.39 1234.33,313.30 1234.49,313.10 1234.64,313.24 1234.79,313.35 1234.95,313.21 1235.10,313.25 1235.26,313.30 1235.41,313.34 1235.56,313.21 1235.72,313.24 1235.87,313.18 1236.03,313.25 1236.18,313.30 1236.33,313.58 1236.49,313.53 1236.64,313.65 1236.80,313.44 1236.95,313.18 1237.10,313.06 1237.26,313.21 1237.41,313.30 1237.57,313.32 1237.72,312.99 1237.87,312.71 1238.03,312.56 1238.18,312.39 1238.34,312.26 1238.49,311.95 1238.64,311.63 1238.80,311.03 1238.95,310.15 1239.11,309.53 1239.26,308.74 1239.41,307.64 1239.57,306.78 1239.72,305.42 1239.88,304.13 1240.03,302.46 1240.18,300.62 1240.34,299.09 1240.49,297.93 1240.65,297.09 1240.80,296.32 1240.95,296.26 1241.11,296.82 1241.26,297.71 1241.42,299.24 1241.57,300.80 1241.72,302.64 1241.88,304.07 1242.03,305.71 1242.19,307.32 1242.34,308.50 1242.49,309.52 1242.65,310.52 1242.80,311.17 1242.96,312.01 1243.11,312.13 1243.26,312.29 1243.42,312.35 1243.57,312.18 1243.73,312.09 1243.88,311.95 1244.03,311.89 1244.19,312.17 1244.34,311.86 1244.50,312.06 1244.65,312.48 1244.80,312.63 1244.96,313.09 1245.11,313.21 1245.27,313.66 1245.42,313.48 1245.57,313.18 1245.73,313.60 1245.88,313.78 1246.04,313.70 1246.19,313.85 1246.34,313.60 1246.50,313.53 1246.65,313.42 1246.81,313.59 1246.96,313.48 1247.11,312.90 1247.27,312.29 1247.42,311.96 1247.58,311.29 1247.73,311.04 1247.88,310.62 1248.04,310.26 1248.19,309.70 1248.35,309.58 1248.50,309.62 1248.65,309.63 1248.81,309.49 1248.96,309.88 1249.12,310.06 1249.27,310.40 1249.42,310.60 1249.58,311.20 1249.73,311.41 1249.89,311.69 1250.04,311.83 1250.19,312.13 1250.35,312.37 1250.50,312.81 1250.66,313.00 1250.81,313.01 1250.96,312.99 1251.12,312.97 1251.27,313.07 1251.43,313.49 1251.58,313.51 1251.73,313.35 1251.89,312.99 1252.04,313.21 1252.20,313.36 1252.35,313.49 1252.50,313.51 1252.66,313.53 1252.81,313.44 1252.97,313.63 1253.12,313.48 1253.27,313.58 1253.43,313.50 1253.58,313.66 1253.74,313.72 1253.89,313.64 1254.04,313.81 1254.20,313.84 1254.35,313.68 1254.51,313.69 1254.66,313.71 1254.81,313.50 1254.97,313.26 1255.12,312.99 1255.28,313.18 1255.43,312.71 1255.58,312.56 1255.74,312.43 1255.89,312.73 1256.05,312.58 1256.20,312.84 1256.35,313.13 1256.51,313.18 1256.66,313.29 1256.82,313.43 1256.97,313.59 1257.12,313.56 1257.28,313.40 1257.43,313.65 1257.59,313.44 1257.74,313.09 1257.89,313.23 1258.05,313.02 1258.20,312.76 1258.36,312.45 1258.51,312.60 1258.66,312.60 1258.82,312.28 1258.97,312.38 1259.13,312.75 1259.28,312.54 1259.43,312.50 1259.59,312.23 1259.74,311.95 1259.90,311.62 1260.05,311.18 1260.20,310.59 1260.36,309.84 1260.51,308.80 1260.67,308.03 1260.82,307.22 1260.97,306.91 1261.13,306.56 1261.28,306.10 1261.44,305.81 1261.59,306.48 1261.74,306.52 1261.90,307.07 1262.05,307.58 1262.21,308.39 1262.36,309.01 1262.51,309.60 1262.67,310.30 1262.82,310.87 1262.98,310.94 1263.13,311.74 1263.28,312.02 1263.44,312.29 1263.59,312.25 1263.75,312.46 1263.90,312.61 1264.05,312.72 1264.21,313.04 1264.36,313.34 1264.52,313.03 1264.67,313.10 1264.82,313.20 1264.98,313.42 1265.13,313.21 1265.29,312.95 1265.44,312.97 1265.59,312.76 1265.75,312.70 1265.90,312.68 1266.06,312.50 1266.21,312.63 1266.36,312.36 1266.52,312.49 1266.67,312.67 1266.83,312.59 1266.98,312.74 1267.13,312.70 1267.29,312.85 1267.44,312.97 1267.60,312.98 1267.75,312.86 1267.90,312.92 1268.06,313.03 1268.21,313.16 1268.37,312.95 1268.52,312.72 1268.67,312.75 1268.83,312.59 1268.98,312.63 1269.14,312.91 1269.29,312.90 1269.44,312.76 1269.60,312.53 1269.75,312.81 1269.91,312.40 1270.06,312.40 1270.21,312.27 1270.37,311.67 1270.52,311.12 1270.68,310.50 1270.83,310.21 1270.98,309.55 1271.14,308.05 1271.29,307.30 1271.45,305.80 1271.60,304.51 1271.75,302.71 1271.91,301.09 1272.06,299.83 1272.22,298.41 1272.37,297.89 1272.52,298.51 1272.68,299.36 1272.83,300.55 1272.99,301.75 1273.14,303.45 1273.29,305.15 1273.45,306.57 1273.60,307.75 1273.76,308.85 1273.91,309.66 1274.06,310.04 1274.22,310.50 1274.37,310.76 1274.53,310.87 1274.68,310.88 1274.83,310.40 1274.99,309.87 1275.14,309.03 1275.30,307.77 1275.45,306.72 1275.60,305.38 1275.76,303.58 1275.91,301.76 1276.07,299.32 1276.22,297.31 1276.37,295.71 1276.53,294.49 1276.68,293.92 1276.84,294.07 1276.99,294.90 1277.14,296.59 1277.30,298.61 1277.45,300.96 1277.61,303.03 1277.76,304.89 1277.91,306.52 1278.07,308.25 1278.22,309.74 1278.38,310.88 1278.53,311.64 1278.68,311.90 1278.84,312.07 1278.99,312.54 1279.15,312.92 1279.30,312.99 1279.45,312.89 1279.61,312.93 1279.76,312.63 1279.92,312.61 1280.07,312.66 1280.22,312.82 1280.38,312.60 1280.53,312.39 1280.69,312.65 1280.84,312.77 1280.99,312.70 1281.15,312.76 1281.30,312.93 1281.46,313.33 1281.61,313.30 1281.76,313.28 1281.92,313.14 1282.07,312.88 1282.23,313.06 1282.38,313.07 1282.53,313.26 1282.69,313.14 1282.84,313.23 1283.00,313.33 1283.15,313.45 1283.30,313.77 1283.46,313.91 1283.61,313.55 1283.77,313.45 1283.92,313.23 1284.07,313.09 1284.23,312.75 1284.38,312.69 1284.54,312.78 1284.69,312.48 1284.84,312.56 1285.00,312.81 1285.15,312.72 1285.31,312.95 1285.46,313.03 1285.61,312.94 1285.77,312.97 1285.92,312.90 1286.08,312.94 1286.23,312.76 1286.38,312.87 1286.54,313.13 1286.69,312.85 1286.85,312.84 1287.00,313.25 1287.15,313.43 1287.31,313.43 1287.46,313.68 1287.62,313.70 1287.77,313.47 1287.92,313.21 1288.08,313.53 1288.23,313.48 1288.39,312.92 1288.54,312.82 1288.69,312.62 1288.85,312.33 1289.00,312.28 1289.16,312.27 1289.31,312.46 1289.46,312.39 1289.62,312.33 1289.77,312.42 1289.93,312.10 1290.08,312.10 1290.23,312.06 1290.39,312.14 1290.54,312.23 1290.70,311.97 1290.85,311.71 1291.00,311.71 1291.16,311.95 1291.31,312.09 1291.47,312.31 1291.62,312.29 1291.77,312.25 1291.93,311.97 1292.08,311.81 1292.24,311.70 1292.39,311.36 1292.54,311.12 1292.70,311.16 1292.85,310.63 1293.01,310.24 1293.16,309.66 1293.31,309.35 1293.47,309.05 1293.62,308.76 1293.78,308.80 1293.93,308.36 1294.08,307.57 1294.24,307.31 1294.39,306.69 1294.55,306.49 1294.70,305.86 1294.85,304.92 1295.01,304.03 1295.16,302.85 1295.32,301.63 1295.47,300.28 1295.62,298.22 1295.78,296.50 1295.93,293.99 1296.09,291.61 1296.24,289.05 1296.39,286.16 1296.55,283.21 1296.70,280.03 1296.86,276.81 1297.01,273.85 1297.16,271.02 1297.32,268.32 1297.47,265.42 1297.63,263.75 1297.78,262.53 1297.93,261.24 1298.09,260.79 1298.24,261.23 1298.40,262.44 1298.55,264.10 1298.70,266.21 1298.86,269.18 1299.01,271.69 1299.17,274.70 1299.32,278.17 1299.47,281.39 1299.63,284.57 1299.78,287.52 1299.94,290.35 1300.09,293.22 1300.24,295.62 1300.40,298.09 1300.55,300.18 1300.71,302.03 1300.86,303.75 1301.01,305.11 1301.17,306.37 1301.32,307.22 1301.48,307.90 1301.63,308.37 1301.78,308.69 1301.94,308.96 1302.09,308.95 1302.25,308.98 1302.40,309.22 1302.55,309.38 1302.71,309.50 1302.86,309.65 1303.02,309.84 1303.17,310.02 1303.32,309.93 1303.48,310.21 1303.63,310.32 1303.79,310.28 1303.94,310.19 1304.09,310.52 1304.25,310.44 1304.40,310.31 1304.56,310.17 1304.71,310.13 1304.86,309.84 1305.02,309.80 1305.17,309.60 1305.33,309.39 1305.48,308.71 1305.63,307.99 1305.79,307.43 1305.94,306.15 1306.10,304.69 1306.25,302.57 1306.40,299.33 1306.56,294.89 1306.71,289.63 1306.87,283.39 1307.02,275.60 1307.17,266.30 1307.33,256.61 1307.48,245.79 1307.64,235.09 1307.79,225.18 1307.94,217.18 1308.10,212.02 1308.25,208.92 1308.41,210.97 1308.56,216.50 1308.71,224.23 1308.87,233.91 1309.02,244.01 1309.18,254.65 1309.33,265.12 1309.48,274.16 1309.64,282.66 1309.79,289.36 1309.95,294.54 1310.10,298.92 1310.25,301.87 1310.41,304.59 1310.56,306.49 1310.72,307.55 1310.87,308.68 1311.02,309.40 1311.18,309.77 1311.33,310.25 1311.49,310.47 1311.64,310.89 1311.79,311.18 1311.95,311.37 1312.10,311.84 1312.26,311.97 1312.41,311.80 1312.56,312.13 1312.72,312.33 1312.87,312.24 1313.03,312.23 1313.18,312.30 1313.33,312.42 1313.49,312.31 1313.64,312.25 1313.80,312.40 1313.95,312.31 1314.10,312.24 1314.26,312.37 1314.41,312.45 1314.57,312.17 1314.72,311.92 1314.87,312.18 1315.03,311.95 1315.18,312.20 1315.34,312.44 1315.49,312.38 1315.64,312.59 1315.80,312.75 1315.95,312.87 1316.11,313.17 1316.26,313.07 1316.41,313.15 1316.57,312.84 1316.72,312.58 1316.88,312.88 1317.03,312.87 1317.18,312.85 1317.34,312.72 1317.49,312.49 1317.65,312.24 1317.80,312.09 1317.95,312.27 1318.11,312.22 1318.26,311.89 1318.42,311.85 1318.57,311.72 1318.72,311.76 1318.88,311.84 1319.03,311.61 1319.19,311.38 1319.34,310.83 1319.49,310.57 1319.65,310.12 1319.80,309.20 1319.96,308.46 1320.11,307.98 1320.26,307.13 1320.42,306.42 1320.57,306.02 1320.73,305.78 1320.88,305.18 1321.03,305.32 1321.19,305.90 1321.34,306.67 1321.50,307.28 1321.65,307.78 1321.80,308.67 1321.96,309.46 1322.11,310.23 1322.27,311.09 1322.42,311.42 1322.57,311.88 1322.73,311.94 1322.88,312.16 1323.04,312.51 1323.19,312.57 1323.34,312.44 1323.50,312.46 1323.65,312.56 1323.81,312.65 1323.96,312.76 1324.11,312.87 1324.27,312.76 1324.42,312.69 1324.58,312.79 1324.73,312.91 1324.88,312.84 1325.04,312.93 1325.19,313.03 1325.35,312.80 1325.50,312.78 1325.65,312.99 1325.81,313.17 1325.96,313.44 1326.12,313.30 1326.27,313.37 1326.42,313.22 1326.58,313.32 1326.73,313.35 1326.89,313.29 1327.04,312.97 1327.19,313.05 1327.35,312.58 1327.50,312.62 1327.66,312.53 1327.81,312.33 1327.96,312.02 1328.12,311.78 1328.27,311.60 1328.43,311.28 1328.58,310.58 1328.73,310.10 1328.89,309.50 1329.04,308.65 1329.20,307.78 1329.35,306.62 1329.50,305.64 1329.66,304.46 1329.81,303.77 1329.97,303.45 1330.12,303.16 1330.27,303.33 1330.43,303.68 1330.58,304.31 1330.74,305.42 1330.89,306.36 1331.04,307.15 1331.20,308.01 1331.35,308.64 1331.51,309.34 1331.66,309.83 1331.81,310.42 1331.97,310.94 1332.12,311.56 1332.28,311.62 1332.43,312.31 1332.58,312.65 1332.74,312.74 1332.89,312.93 1333.05,313.16 1333.20,313.18 1333.35,313.43 1333.51,313.24 1333.66,313.67 1333.82,313.66 1333.97,313.48 1334.12,313.55 1334.28,313.53 1334.43,313.25 1334.59,313.29 1334.74,313.23 1334.89,313.17 1335.05,312.75 1335.20,312.63 1335.36,312.64 1335.51,312.66 1335.66,312.65 1335.82,312.71 1335.97,312.69 1336.13,312.60 1336.28,312.64 1336.43,312.95 1336.59,312.87 1336.74,312.78 1336.90,312.60 1337.05,312.59 1337.20,312.70 1337.36,312.56 1337.51,312.38 1337.67,312.40 1337.82,312.08 1337.97,311.94 1338.13,311.67 1338.28,311.76 1338.44,311.68 1338.59,311.09 1338.74,310.89 1338.90,310.29 1339.05,309.09 1339.21,307.72 1339.36,305.85 1339.51,303.20 1339.67,299.17 1339.82,294.43 1339.98,289.41 1340.13,283.77 1340.28,278.10 1340.44,273.24 1340.59,269.70 1340.75,268.50 1340.90,269.52 1341.05,273.07 1341.21,277.65 1341.36,283.00 1341.52,288.56 1341.67,293.87 1341.82,298.26 1341.98,302.08 1342.13,304.73 1342.29,307.14 1342.44,308.70 1342.59,310.05 1342.75,310.84 1342.90,311.06 1343.06,311.39 1343.21,311.80 1343.36,312.21 1343.52,312.38 1343.67,312.40 1343.83,312.66 1343.98,312.82 1344.13,312.95 1344.29,313.29 1344.44,313.18 1344.60,313.22 1344.75,313.25 1344.90,313.41 1345.06,313.19 1345.21,313.09 1345.37,312.77 1345.52,312.69 1345.67,312.39 1345.83,312.56 1345.98,312.63 1346.14,312.43 1346.29,312.36 1346.44,312.45 1346.60,312.34 1346.75,312.18 1346.91,312.26 1347.06,312.40 1347.21,312.56 1347.37,312.49 1347.52,312.55 1347.68,312.54 1347.83,312.54 1347.98,312.60 1348.14,312.98 1348.29,312.81 1348.45,312.90 1348.60,312.89 1348.75,312.74 1348.91,312.63 1349.06,313.00 1349.22,313.16 1349.37,312.97 1349.52,312.73 1349.68,312.93 1349.83,312.67 1349.99,312.67 1350.14,312.84 1350.29,312.91 1350.45,312.53 1350.60,312.35 1350.76,312.29 1350.91,312.39 1351.06,312.10 1351.22,312.38 1351.37,312.27 1351.53,311.98 1351.68,311.95 1351.83,311.77 1351.99,311.90 1352.14,312.03 1352.30,311.99 1352.45,312.11 1352.60,312.02 1352.76,311.93 1352.91,312.02 1353.07,311.81 1353.22,311.88 1353.37,311.66 1353.53,311.43 1353.68,311.48 1353.84,311.63 1353.99,311.28 1354.14,311.00 1354.30,310.97 1354.45,310.97 1354.61,310.99 1354.76,311.13 1354.91,311.06 1355.07,310.94 1355.22,310.42 1355.38,310.53 1355.53,310.45 1355.68,309.94 1355.84,309.44 1355.99,309.03 1356.15,308.33 1356.30,308.11 1356.45,307.52 1356.61,307.06 1356.76,306.15 1356.92,305.55 1357.07,304.90 1357.22,304.12 1357.38,302.99 1357.53,301.52 1357.69,298.87 1357.84,295.56 1357.99,290.75 1358.15,283.68 1358.30,273.14 1358.46,257.91 1358.61,237.05 1358.76,209.95 1358.92,178.01 1359.07,144.35 1359.23,111.82 1359.38,87.79 1359.53,79.24 1359.69,88.44 1359.84,112.90 1360.00,145.35 1360.15,180.02 1360.30,211.24 1360.46,237.47 1360.61,257.70 1360.77,272.62 1360.92,283.11 1361.07,289.92 1361.23,294.64 1361.38,297.94 1361.54,299.94 1361.69,301.60 1361.84,302.41 1362.00,303.14 1362.15,303.42 1362.31,303.61 1362.46,303.64 1362.61,303.39 1362.77,302.67 1362.92,301.56 1363.08,299.98 1363.23,297.93 1363.38,295.04 1363.54,290.82 1363.69,284.71 1363.85,277.22 1364.00,269.01 1364.15,259.31 1364.31,248.69 1364.46,238.07 1364.62,228.23 1364.77,220.98 1364.92,218.68 1365.08,221.59 1365.23,229.27 1365.39,238.59 1365.54,249.61 1365.69,260.34 1365.85,270.61 1366.00,279.51 1366.16,286.68 1366.31,292.37 1366.46,296.63 1366.62,299.70 1366.77,301.78 1366.93,303.10 1367.08,303.96 1367.23,304.28 1367.39,304.40 1367.54,304.60 1367.70,304.40 1367.85,303.81 1368.00,302.78 1368.16,301.35 1368.31,299.55 1368.47,297.11 1368.62,293.72 1368.77,290.24 1368.93,285.44 1369.08,280.37 1369.24,275.31 1369.39,270.35 1369.54,266.11 1369.70,263.50 1369.85,263.05 1370.01,264.85 1370.16,267.75 1370.31,272.42 1370.47,277.57 1370.62,282.97 1370.78,288.19 1370.93,293.23 1371.08,296.99 1371.24,300.18 1371.39,302.69 1371.55,304.62 1371.70,306.37 1371.85,307.69 1372.01,308.95 1372.16,309.45 1372.32,309.70 1372.47,310.24 1372.62,310.50 1372.78,310.93 1372.93,311.40 1373.09,311.27 1373.24,311.28 1373.39,310.96 1373.55,311.04 1373.70,311.03 1373.86,310.97 1374.01,310.77 1374.16,310.68 1374.32,310.54 1374.47,310.84 1374.63,310.98 1374.78,311.40 1374.93,311.69 1375.09,311.44 1375.24,311.06 1375.40,311.13 1375.55,310.71 1375.70,310.15 1375.86,309.50 1376.01,308.24 1376.17,306.87 1376.32,305.34 1376.47,304.47 1376.63,302.92 1376.78,301.35 1376.94,299.83 1377.09,299.21 1377.24,298.71 1377.40,299.31 1377.55,300.03 1377.71,300.93 1377.86,301.73 1378.01,303.37 1378.17,304.99 1378.32,306.51 1378.48,307.40 1378.63,308.39 1378.78,309.15 1378.94,309.75 1379.09,310.64 1379.25,311.27 1379.40,311.51 1379.55,311.78 1379.71,312.04 1379.86,312.22 1380.02,312.57 1380.17,312.74 1380.32,313.09 1380.48,313.10 1380.63,313.37 1380.79,313.75 1380.94,313.72 1381.09,313.80 1381.25,313.97 1381.40,314.14 1381.56,313.93 1381.71,313.76 1381.86,313.85 1382.02,313.77 1382.17,313.62 1382.33,313.71 1382.48,313.75 1382.63,313.80 1382.79,313.42 1382.94,313.75 1383.10,313.66 1383.25,313.48 1383.40,313.43 1383.56,313.31 1383.71,313.19 1383.87,313.30 1384.02,313.20 1384.17,313.27 1384.33,313.18 1384.48,313.22 1384.64,312.96 1384.79,312.92 1384.94,313.03 1385.10,313.07 1385.25,312.74 1385.41,312.80 1385.56,312.93 1385.71,313.09 1385.87,313.06 1386.02,313.28 1386.18,313.53 1386.33,313.69 1386.48,313.58 1386.64,313.62 1386.79,313.80 1386.95,313.75 1387.10,313.48 1387.25,313.62 1387.41,313.79 1387.56,313.65 1387.72,313.73 1387.87,313.82 1388.02,313.92 1388.18,313.93 1388.33,313.87 1388.49,313.83 1388.64,313.74 1388.79,313.55 1388.95,313.56 1389.10,313.20 1389.26,313.32 1389.41,313.11 1389.56,312.98 1389.72,313.10 1389.87,313.37 1390.03,313.45 1390.18,313.65 1390.33,313.67 1390.49,313.90 1390.64,313.71 1390.80,313.85 1390.95,313.83 1391.10,313.57 1391.26,313.59 1391.41,313.67 1391.57,313.76 1391.72,313.59 1391.87,313.76 1392.03,314.04 1392.18,313.98 1392.34,313.71 1392.49,313.70 1392.64,313.77 1392.80,313.63 1392.95,313.37 1393.11,313.44 1393.26,313.45 1393.41,313.31 1393.57,313.71 1393.72,314.11 1393.88,314.00 1394.03,313.71 1394.18,313.91 1394.34,314.23 1394.49,314.18 1394.49,314.00" fill="#F6BEC2"/>
<polyline points="1117.60,313.67 1117.75,313.70 1117.91,313.96 1118.06,313.98 1118.22,314.09 1118.37,313.91 1118.52,313.53 1118.68,313.62 1118.83,313.57 1118.99,313.59 1119.14,313.69 1119.29,313.45 1119.45,313.34 1119.60,313.24 1119.76,313.54 1119.91,313.58 1120.06,313.50 1120.22,313.23 1120.37,313.04 1120.53,312.94 1120.68,312.87 1120.83,312.82 1120.99,312.49 1121.14,312.60 1121.30,312.54 1121.45,312.33 1121.60,312.57 1121.76,312.58 1121.91,312.26 1122.07,312.00 1122.22,311.85 1122.37,311.74 1122.53,311.70 1122.68,310.97 1122.84,310.42 1122.99,309.34 1123.14,307.53 1123.30,305.10 1123.45,301.89 1123.61,297.66 1123.76,292.21 1123.91,285.11 1124.07,277.55 1124.22,269.30 1124.38,261.21 1124.53,254.31 1124.68,249.64 1124.84,247.43 1124.99,247.58 1125.15,250.56 1125.30,255.59 1125.45,262.08 1125.61,268.50 1125.76,274.99 1125.92,280.28 1126.07,284.41 1126.22,287.78 1126.38,290.18 1126.53,292.00 1126.69,292.85 1126.84,293.69 1126.99,294.31 1127.15,294.16 1127.30,294.44 1127.46,295.29 1127.61,295.61 1127.76,296.18 1127.92,296.83 1128.07,297.50 1128.23,298.25 1128.38,299.00 1128.53,300.27 1128.69,301.25 1128.84,301.97 1129.00,302.99 1129.15,304.31 1129.30,304.97 1129.46,306.03 1129.61,306.65 1129.77,307.37 1129.92,307.95 1130.07,308.94 1130.23,309.68 1130.38,310.30 1130.54,310.38 1130.69,311.24 1130.84,311.81 1131.00,312.28 1131.15,312.68 1131.31,312.88 1131.46,313.15 1131.61,313.44 1131.77,313.47 1131.92,313.59 1132.08,313.38 1132.23,313.34 1132.38,313.40 1132.54,313.44 1132.69,313.58 1132.85,313.33 1133.00,313.23 1133.15,313.23 1133.31,313.42 1133.46,313.46 1133.62,313.47 1133.77,313.09 1133.92,312.93 1134.08,312.70 1134.23,313.09 1134.39,313.03 1134.54,313.14 1134.69,313.05 1134.85,313.43 1135.00,313.31 1135.16,313.51 1135.31,313.89 1135.46,314.22 1135.62,314.05 1135.77,314.00 1135.93,313.84 1136.08,313.64 1136.23,313.36 1136.39,313.41 1136.54,313.54 1136.70,313.13 1136.85,312.90 1137.00,312.61 1137.16,312.76 1137.31,312.87 1137.47,313.25 1137.62,313.03 1137.77,313.04 1137.93,313.10 1138.08,313.40 1138.24,313.43 1138.39,313.71 1138.54,313.69 1138.70,313.60 1138.85,313.16 1139.01,313.39 1139.16,313.56 1139.31,313.67 1139.47,313.79 1139.62,313.78 1139.78,313.57 1139.93,313.45 1140.08,313.46 1140.24,313.78 1140.39,313.72 1140.55,313.85 1140.70,313.76 1140.85,313.56 1141.01,313.73 1141.16,313.91 1141.32,314.02 1141.47,314.11 1141.62,314.00 1141.78,314.07 1141.93,313.89 1142.09,313.71 1142.24,313.64 1142.39,313.30 1142.55,313.52 1142.70,313.29 1142.86,313.30 1143.01,313.39 1143.16,313.22 1143.32,313.05 1143.47,313.01 1143.63,313.07 1143.78,313.08 1143.93,312.83 1144.09,312.95 1144.24,312.77 1144.40,312.85 1144.55,312.67 1144.70,312.66 1144.86,312.50 1145.01,312.51 1145.17,312.76 1145.32,312.68 1145.47,312.54 1145.63,312.70 1145.78,312.55 1145.94,312.81 1146.09,312.70 1146.24,313.03 1146.40,312.84 1146.55,312.80 1146.71,312.87 1146.86,312.95 1147.01,312.90 1147.17,312.75 1147.32,312.38 1147.48,312.30 1147.63,311.79 1147.78,311.30 1147.94,310.70 1148.09,310.01 1148.25,309.36 1148.40,308.80 1148.55,308.09 1148.71,307.91 1148.86,307.37 1149.02,307.14 1149.17,307.09 1149.32,307.25 1149.48,307.71 1149.63,308.08 1149.79,308.50 1149.94,309.24 1150.09,309.60 1150.25,310.29 1150.40,310.84 1150.56,311.57 1150.71,311.98 1150.86,312.49 1151.02,312.83 1151.17,313.13 1151.33,313.12 1151.48,313.08 1151.63,313.42 1151.79,313.45 1151.94,313.40 1152.10,313.56 1152.25,313.22 1152.40,313.28 1152.56,313.37 1152.71,313.56 1152.87,313.75 1153.02,313.46 1153.17,313.63 1153.33,313.51 1153.48,313.24 1153.64,313.42 1153.79,313.39 1153.94,313.09 1154.10,313.04 1154.25,312.65 1154.41,312.47 1154.56,312.23 1154.71,312.14 1154.87,311.91 1155.02,311.02 1155.18,310.45 1155.33,309.83 1155.48,309.01 1155.64,308.53 1155.79,307.47 1155.95,306.63 1156.10,305.69 1156.25,305.06 1156.41,304.90 1156.56,304.91 1156.72,304.81 1156.87,305.30 1157.02,305.89 1157.18,307.06 1157.33,307.86 1157.49,308.65 1157.64,309.27 1157.79,309.91 1157.95,310.17 1158.10,310.82 1158.26,311.22 1158.41,311.45 1158.56,311.52 1158.72,311.65 1158.87,311.79 1159.03,311.88 1159.18,312.04 1159.33,312.32 1159.49,312.36 1159.64,312.13 1159.80,312.28 1159.95,312.37 1160.10,312.34 1160.26,312.23 1160.41,312.58 1160.57,312.47 1160.72,312.14 1160.87,312.19 1161.03,312.06 1161.18,311.75 1161.34,311.58 1161.49,311.29 1161.64,311.42 1161.80,311.01 1161.95,310.62 1162.11,310.78 1162.26,310.38 1162.41,310.64 1162.57,310.72 1162.72,310.84 1162.88,311.41 1163.03,311.54 1163.18,311.70 1163.34,312.35 1163.49,312.63 1163.65,313.02 1163.80,313.27 1163.95,313.77 1164.11,313.98 1164.26,313.65 1164.42,313.71 1164.57,313.66 1164.72,313.34 1164.88,313.18 1165.03,313.40 1165.19,313.50 1165.34,313.28 1165.49,313.07 1165.65,313.14 1165.80,312.99 1165.96,313.16 1166.11,313.29 1166.26,313.32 1166.42,313.17 1166.57,313.11 1166.73,313.24 1166.88,313.34 1167.03,313.41 1167.19,313.49 1167.34,313.19 1167.50,313.08 1167.65,312.44 1167.80,312.06 1167.96,311.75 1168.11,311.19 1168.27,310.84 1168.42,310.55 1168.57,310.04 1168.73,310.05 1168.88,310.30 1169.04,310.50 1169.19,310.68 1169.34,310.42 1169.50,310.72 1169.65,311.09 1169.81,310.98 1169.96,311.50 1170.11,311.61 1170.27,311.23 1170.42,311.56 1170.58,311.72 1170.73,312.12 1170.88,312.11 1171.04,312.23 1171.19,312.51 1171.35,312.42 1171.50,312.25 1171.65,312.59 1171.81,312.81 1171.96,312.77 1172.12,312.89 1172.27,313.01 1172.42,312.93 1172.58,312.88 1172.73,313.07 1172.89,313.42 1173.04,313.74 1173.19,313.75 1173.35,313.66 1173.50,313.71 1173.66,313.85 1173.81,314.04 1173.96,314.13 1174.12,314.03 1174.27,314.18 1174.43,313.75 1174.58,313.61 1174.73,313.72 1174.89,313.72 1175.04,313.39 1175.20,313.18 1175.35,313.28 1175.50,313.38 1175.66,313.25 1175.81,313.23 1175.97,313.31 1176.12,313.27 1176.27,313.10 1176.43,313.16 1176.58,313.11 1176.74,313.10 1176.89,313.29 1177.04,313.22 1177.20,313.23 1177.35,313.18 1177.51,313.25 1177.66,313.39 1177.81,313.62 1177.97,313.86 1178.12,313.67 1178.28,313.39 1178.43,313.50 1178.58,313.79 1178.74,313.83 1178.89,313.71 1179.05,313.59 1179.20,313.63 1179.35,313.32 1179.51,313.31 1179.66,313.20 1179.82,313.03 1179.97,312.70 1180.12,312.60 1180.28,312.69 1180.43,312.86 1180.59,312.56 1180.74,312.72 1180.89,312.64 1181.05,313.05 1181.20,313.06 1181.36,313.08 1181.51,313.20 1181.66,313.25 1181.82,313.04 1181.97,313.17 1182.13,313.27 1182.28,313.56 1182.43,313.15 1182.59,313.07 1182.74,313.19 1182.90,313.13 1183.05,313.17 1183.20,313.13 1183.36,313.35 1183.51,313.45 1183.67,313.42 1183.82,313.70 1183.97,313.95 1184.13,313.95 1184.28,313.90 1184.44,314.07 1184.59,314.10 1184.74,314.19 1184.90,313.94 1185.05,314.17 1185.21,314.19 1185.36,314.02 1185.51,314.09 1185.67,314.26 1185.82,314.18 1185.98,314.22 1186.13,313.99 1186.28,314.06 1186.44,313.71 1186.59,313.63 1186.75,313.78 1186.90,313.80 1187.05,313.53 1187.21,313.34 1187.36,313.23 1187.52,313.22 1187.67,313.24 1187.82,313.26 1187.98,313.22 1188.13,313.04 1188.29,312.87 1188.44,313.12 1188.59,313.26 1188.75,313.45 1188.90,313.21 1189.06,312.84 1189.21,312.96 1189.36,312.91 1189.52,313.32 1189.67,313.38 1189.83,313.29 1189.98,313.42 1190.13,313.29 1190.29,313.73 1190.44,314.10 1190.60,314.06 1190.75,314.23 1190.90,313.80 1191.06,313.68 1191.21,313.86 1191.37,313.90 1191.52,313.92 1191.67,313.70 1191.83,313.83 1191.98,313.88 1192.14,313.71 1192.29,313.84 1192.44,313.86 1192.60,313.61 1192.75,313.17 1192.91,313.05 1193.06,312.94 1193.21,312.61 1193.37,312.37 1193.52,312.24 1193.68,312.36 1193.83,312.33 1193.98,312.34 1194.14,312.32 1194.29,312.45 1194.45,312.42 1194.60,312.45 1194.75,312.33 1194.91,312.30 1195.06,312.03 1195.22,311.93 1195.37,311.75 1195.52,311.60 1195.68,311.15 1195.83,310.58 1195.99,309.56 1196.14,308.87 1196.29,307.70 1196.45,306.32 1196.60,304.76 1196.76,303.29 1196.91,301.92 1197.06,300.64 1197.22,299.72 1197.37,299.70 1197.53,300.02 1197.68,301.03 1197.83,302.20 1197.99,303.59 1198.14,304.93 1198.30,306.30 1198.45,307.60 1198.60,308.99 1198.76,310.01 1198.91,310.76 1199.07,311.21 1199.22,311.74 1199.37,312.43 1199.53,312.57 1199.68,312.54 1199.84,312.76 1199.99,312.67 1200.14,312.67 1200.30,312.58 1200.45,312.86 1200.61,312.68 1200.76,312.60 1200.91,312.61 1201.07,312.84 1201.22,312.88 1201.38,312.96 1201.53,312.88 1201.68,313.11 1201.84,312.96 1201.99,313.25 1202.15,313.41 1202.30,313.40 1202.45,313.32 1202.61,313.26 1202.76,313.06 1202.92,313.29 1203.07,313.15 1203.22,312.82 1203.38,312.57 1203.53,312.57 1203.69,313.11 1203.84,313.22 1203.99,312.94 1204.15,313.01 1204.30,312.71 1204.46,312.39 1204.61,312.48 1204.76,312.29 1204.92,311.54 1205.07,310.65 1205.23,310.07 1205.38,309.91 1205.53,309.40 1205.69,309.08 1205.84,308.71 1206.00,308.04 1206.15,308.10 1206.30,308.56 1206.46,308.85 1206.61,309.10 1206.77,309.19 1206.92,309.46 1207.07,309.87 1207.23,310.51 1207.38,311.01 1207.54,311.36 1207.69,311.16 1207.84,311.35 1208.00,311.45 1208.15,311.60 1208.31,311.69 1208.46,311.46 1208.61,311.40 1208.77,311.36 1208.92,310.95 1209.08,310.68 1209.23,309.99 1209.38,309.52 1209.54,308.96 1209.69,308.29 1209.85,307.45 1210.00,306.12 1210.15,305.14 1210.31,303.84 1210.46,302.81 1210.62,302.18 1210.77,301.78 1210.92,301.44 1211.08,301.44 1211.23,302.23 1211.39,303.03 1211.54,303.73 1211.69,305.00 1211.85,306.13 1212.00,306.87 1212.16,307.54 1212.31,308.62 1212.46,309.51 1212.62,309.95 1212.77,310.67 1212.93,311.65 1213.08,311.93 1213.23,312.34 1213.39,312.84 1213.54,313.18 1213.70,313.05 1213.85,313.18 1214.00,313.34 1214.16,313.30 1214.31,312.84 1214.47,313.03 1214.62,312.79 1214.77,312.81 1214.93,312.89 1215.08,312.82 1215.24,312.91 1215.39,312.69 1215.54,312.84 1215.70,312.99 1215.85,313.12 1216.01,313.43 1216.16,313.33 1216.31,313.25 1216.47,313.46 1216.62,313.41 1216.78,313.50 1216.93,313.63 1217.08,313.84 1217.24,313.70 1217.39,313.71 1217.55,313.95 1217.70,313.99 1217.85,314.01 1218.01,313.99 1218.16,313.83 1218.32,313.51 1218.47,313.19 1218.62,313.18 1218.78,313.13 1218.93,313.23 1219.09,313.27 1219.24,313.53 1219.39,313.58 1219.55,313.70 1219.70,313.61 1219.86,313.65 1220.01,313.76 1220.16,313.62 1220.32,313.53 1220.47,313.37 1220.63,313.10 1220.78,312.90 1220.93,312.65 1221.09,312.74 1221.24,312.55 1221.40,312.40 1221.55,312.50 1221.70,312.21 1221.86,312.08 1222.01,312.12 1222.17,312.22 1222.32,312.74 1222.47,312.88 1222.63,313.06 1222.78,313.07 1222.94,313.09 1223.09,313.43 1223.24,313.59 1223.40,313.38 1223.55,313.28 1223.71,313.02 1223.86,313.13 1224.01,312.97 1224.17,312.91 1224.32,312.79 1224.48,312.43 1224.63,312.68 1224.78,312.68 1224.94,312.63 1225.09,312.41 1225.25,311.79 1225.40,311.62 1225.55,311.42 1225.71,310.88 1225.86,310.24 1226.02,309.05 1226.17,308.17 1226.32,307.18 1226.48,305.79 1226.63,304.46 1226.79,302.99 1226.94,301.45 1227.09,299.74 1227.25,299.07 1227.40,298.39 1227.56,297.60 1227.71,297.63 1227.86,298.44 1228.02,299.82 1228.17,301.01 1228.33,302.47 1228.48,304.24 1228.63,305.28 1228.79,306.74 1228.94,308.13 1229.10,309.34 1229.25,310.34 1229.40,310.89 1229.56,311.70 1229.71,311.90 1229.87,312.15 1230.02,312.47 1230.17,312.60 1230.33,312.94 1230.48,312.91 1230.64,312.80 1230.79,312.90 1230.94,312.85 1231.10,312.97 1231.25,313.25 1231.41,313.13 1231.56,313.23 1231.71,313.18 1231.87,312.96 1232.02,313.24 1232.18,313.23 1232.33,313.52 1232.48,313.59 1232.64,313.69 1232.79,313.86 1232.95,313.80 1233.10,313.80 1233.25,313.79 1233.41,313.61 1233.56,313.52 1233.72,313.31 1233.87,313.28 1234.02,313.19 1234.18,313.39 1234.33,313.30 1234.49,313.10 1234.64,313.24 1234.79,313.35 1234.95,313.21 1235.10,313.25 1235.26,313.30 1235.41,313.34 1235.56,313.21 1235.72,313.24 1235.87,313.18 1236.03,313.25 1236.18,313.30 1236.33,313.58 1236.49,313.53 1236.64,313.65 1236.80,313.44 1236.95,313.18 1237.10,313.06 1237.26,313.21 1237.41,313.30 1237.57,313.32 1237.72,312.99 1237.87,312.71 1238.03,312.56 1238.18,312.39 1238.34,312.26 1238.49,311.95 1238.64,311.63 1238.80,311.03 1238.95,310.15 1239.11,309.53 1239.26,308.74 1239.41,307.64 1239.57,306.78 1239.72,305.42 1239.88,304.13 1240.03,302.46 1240.18,300.62 1240.34,299.09 1240.49,297.93 1240.65,297.09 1240.80,296.32 1240.95,296.26 1241.11,296.82 1241.26,297.71 1241.42,299.24 1241.57,300.80 1241.72,302.64 1241.88,304.07 1242.03,305.71 1242.19,307.32 1242.34,308.50 1242.49,309.52 1242.65,310.52 1242.80,311.17 1242.96,312.01 1243.11,312.13 1243.26,312.29 1243.42,312.35 1243.57,312.18 1243.73,312.09 1243.88,311.95 1244.03,311.89 1244.19,312.17 1244.34,311.86 1244.50,312.06 1244.65,312.48 1244.80,312.63 1244.96,313.09 1245.11,313.21 1245.27,313.66 1245.42,313.48 1245.57,313.18 1245.73,313.60 1245.88,313.78 1246.04,313.70 1246.19,313.85 1246.34,313.60 1246.50,313.53 1246.65,313.42 1246.81,313.59 1246.96,313.48 1247.11,312.90 1247.27,312.29 1247.42,311.96 1247.58,311.29 1247.73,311.04 1247.88,310.62 1248.04,310.26 1248.19,309.70 1248.35,309.58 1248.50,309.62 1248.65,309.63 1248.81,309.49 1248.96,309.88 1249.12,310.06 1249.27,310.40 1249.42,310.60 1249.58,311.20 1249.73,311.41 1249.89,311.69 1250.04,311.83 1250.19,312.13 1250.35,312.37 1250.50,312.81 1250.66,313.00 1250.81,313.01 1250.96,312.99 1251.12,312.97 1251.27,313.07 1251.43,313.49 1251.58,313.51 1251.73,313.35 1251.89,312.99 1252.04,313.21 1252.20,313.36 1252.35,313.49 1252.50,313.51 1252.66,313.53 1252.81,313.44 1252.97,313.63 1253.12,313.48 1253.27,313.58 1253.43,313.50 1253.58,313.66 1253.74,313.72 1253.89,313.64 1254.04,313.81 1254.20,313.84 1254.35,313.68 1254.51,313.69 1254.66,313.71 1254.81,313.50 1254.97,313.26 1255.12,312.99 1255.28,313.18 1255.43,312.71 1255.58,312.56 1255.74,312.43 1255.89,312.73 1256.05,312.58 1256.20,312.84 1256.35,313.13 1256.51,313.18 1256.66,313.29 1256.82,313.43 1256.97,313.59 1257.12,313.56 1257.28,313.40 1257.43,313.65 1257.59,313.44 1257.74,313.09 1257.89,313.23 1258.05,313.02 1258.20,312.76 1258.36,312.45 1258.51,312.60 1258.66,312.60 1258.82,312.28 1258.97,312.38 1259.13,312.75 1259.28,312.54 1259.43,312.50 1259.59,312.23 1259.74,311.95 1259.90,311.62 1260.05,311.18 1260.20,310.59 1260.36,309.84 1260.51,308.80 1260.67,308.03 1260.82,307.22 1260.97,306.91 1261.13,306.56 1261.28,306.10 1261.44,305.81 1261.59,306.48 1261.74,306.52 1261.90,307.07 1262.05,307.58 1262.21,308.39 1262.36,309.01 1262.51,309.60 1262.67,310.30 1262.82,310.87 1262.98,310.94 1263.13,311.74 1263.28,312.02 1263.44,312.29 1263.59,312.25 1263.75,312.46 1263.90,312.61 1264.05,312.72 1264.21,313.04 1264.36,313.34 1264.52,313.03 1264.67,313.10 1264.82,313.20 1264.98,313.42 1265.13,313.21 1265.29,312.95 1265.44,312.97 1265.59,312.76 1265.75,312.70 1265.90,312.68 1266.06,312.50 1266.21,312.63 1266.36,312.36 1266.52,312.49 1266.67,312.67 1266.83,312.59 1266.98,312.74 1267.13,312.70 1267.29,312.85 1267.44,312.97 1267.60,312.98 1267.75,312.86 1267.90,312.92 1268.06,313.03 1268.21,313.16 1268.37,312.95 1268.52,312.72 1268.67,312.75 1268.83,312.59 1268.98,312.63 1269.14,312.91 1269.29,312.90 1269.44,312.76 1269.60,312.53 1269.75,312.81 1269.91,312.40 1270.06,312.40 1270.21,312.27 1270.37,311.67 1270.52,311.12 1270.68,310.50 1270.83,310.21 1270.98,309.55 1271.14,308.05 1271.29,307.30 1271.45,305.80 1271.60,304.51 1271.75,302.71 1271.91,301.09 1272.06,299.83 1272.22,298.41 1272.37,297.89 1272.52,298.51 1272.68,299.36 1272.83,300.55 1272.99,301.75 1273.14,303.45 1273.29,305.15 1273.45,306.57 1273.60,307.75 1273.76,308.85 1273.91,309.66 1274.06,310.04 1274.22,310.50 1274.37,310.76 1274.53,310.87 1274.68,310.88 1274.83,310.40 1274.99,309.87 1275.14,309.03 1275.30,307.77 1275.45,306.72 1275.60,305.38 1275.76,303.58 1275.91,301.76 1276.07,299.32 1276.22,297.31 1276.37,295.71 1276.53,294.49 1276.68,293.92 1276.84,294.07 1276.99,294.90 1277.14,296.59 1277.30,298.61 1277.45,300.96 1277.61,303.03 1277.76,304.89 1277.91,306.52 1278.07,308.25 1278.22,309.74 1278.38,310.88 1278.53,311.64 1278.68,311.90 1278.84,312.07 1278.99,312.54 1279.15,312.92 1279.30,312.99 1279.45,312.89 1279.61,312.93 1279.76,312.63 1279.92,312.61 1280.07,312.66 1280.22,312.82 1280.38,312.60 1280.53,312.39 1280.69,312.65 1280.84,312.77 1280.99,312.70 1281.15,312.76 1281.30,312.93 1281.46,313.33 1281.61,313.30 1281.76,313.28 1281.92,313.14 1282.07,312.88 1282.23,313.06 1282.38,313.07 1282.53,313.26 1282.69,313.14 1282.84,313.23 1283.00,313.33 1283.15,313.45 1283.30,313.77 1283.46,313.91 1283.61,313.55 1283.77,313.45 1283.92,313.23 1284.07,313.09 1284.23,312.75 1284.38,312.69 1284.54,312.78 1284.69,312.48 1284.84,312.56 1285.00,312.81 1285.15,312.72 1285.31,312.95 1285.46,313.03 1285.61,312.94 1285.77,312.97 1285.92,312.90 1286.08,312.94 1286.23,312.76 1286.38,312.87 1286.54,313.13 1286.69,312.85 1286.85,312.84 1287.00,313.25 1287.15,313.43 1287.31,313.43 1287.46,313.68 1287.62,313.70 1287.77,313.47 1287.92,313.21 1288.08,313.53 1288.23,313.48 1288.39,312.92 1288.54,312.82 1288.69,312.62 1288.85,312.33 1289.00,312.28 1289.16,312.27 1289.31,312.46 1289.46,312.39 1289.62,312.33 1289.77,312.42 1289.93,312.10 1290.08,312.10 1290.23,312.06 1290.39,312.14 1290.54,312.23 1290.70,311.97 1290.85,311.71 1291.00,311.71 1291.16,311.95 1291.31,312.09 1291.47,312.31 1291.62,312.29 1291.77,312.25 1291.93,311.97 1292.08,311.81 1292.24,311.70 1292.39,311.36 1292.54,311.12 1292.70,311.16 1292.85,310.63 1293.01,310.24 1293.16,309.66 1293.31,309.35 1293.47,309.05 1293.62,308.76 1293.78,308.80 1293.93,308.36 1294.08,307.57 1294.24,307.31 1294.39,306.69 1294.55,306.49 1294.70,305.86 1294.85,304.92 1295.01,304.03 1295.16,302.85 1295.32,301.63 1295.47,300.28 1295.62,298.22 1295.78,296.50 1295.93,293.99 1296.09,291.61 1296.24,289.05 1296.39,286.16 1296.55,283.21 1296.70,280.03 1296.86,276.81 1297.01,273.85 1297.16,271.02 1297.32,268.32 1297.47,265.42 1297.63,263.75 1297.78,262.53 1297.93,261.24 1298.09,260.79 1298.24,261.23 1298.40,262.44 1298.55,264.10 1298.70,266.21 1298.86,269.18 1299.01,271.69 1299.17,274.70 1299.32,278.17 1299.47,281.39 1299.63,284.57 1299.78,287.52 1299.94,290.35 1300.09,293.22 1300.24,295.62 1300.40,298.09 1300.55,300.18 1300.71,302.03 1300.86,303.75 1301.01,305.11 1301.17,306.37 1301.32,307.22 1301.48,307.90 1301.63,308.37 1301.78,308.69 1301.94,308.96 1302.09,308.95 1302.25,308.98 1302.40,309.22 1302.55,309.38 1302.71,309.50 1302.86,309.65 1303.02,309.84 1303.17,310.02 1303.32,309.93 1303.48,310.21 1303.63,310.32 1303.79,310.28 1303.94,310.19 1304.09,310.52 1304.25,310.44 1304.40,310.31 1304.56,310.17 1304.71,310.13 1304.86,309.84 1305.02,309.80 1305.17,309.60 1305.33,309.39 1305.48,308.71 1305.63,307.99 1305.79,307.43 1305.94,306.15 1306.10,304.69 1306.25,302.57 1306.40,299.33 1306.56,294.89 1306.71,289.63 1306.87,283.39 1307.02,275.60 1307.17,266.30 1307.33,256.61 1307.48,245.79 1307.64,235.09 1307.79,225.18 1307.94,217.18 1308.10,212.02 1308.25,208.92 1308.41,210.97 1308.56,216.50 1308.71,224.23 1308.87,233.91 1309.02,244.01 1309.18,254.65 1309.33,265.12 1309.48,274.16 1309.64,282.66 1309.79,289.36 1309.95,294.54 1310.10,298.92 1310.25,301.87 1310.41,304.59 1310.56,306.49 1310.72,307.55 1310.87,308.68 1311.02,309.40 1311.18,309.77 1311.33,310.25 1311.49,310.47 1311.64,310.89 1311.79,311.18 1311.95,311.37 1312.10,311.84 1312.26,311.97 1312.41,311.80 1312.56,312.13 1312.72,312.33 1312.87,312.24 1313.03,312.23 1313.18,312.30 1313.33,312.42 1313.49,312.31 1313.64,312.25 1313.80,312.40 1313.95,312.31 1314.10,312.24 1314.26,312.37 1314.41,312.45 1314.57,312.17 1314.72,311.92 1314.87,312.18 1315.03,311.95 1315.18,312.20 1315.34,312.44 1315.49,312.38 1315.64,312.59 1315.80,312.75 1315.95,312.87 1316.11,313.17 1316.26,313.07 1316.41,313.15 1316.57,312.84 1316.72,312.58 1316.88,312.88 1317.03,312.87 1317.18,312.85 1317.34,312.72 1317.49,312.49 1317.65,312.24 1317.80,312.09 1317.95,312.27 1318.11,312.22 1318.26,311.89 1318.42,311.85 1318.57,311.72 1318.72,311.76 1318.88,311.84 1319.03,311.61 1319.19,311.38 1319.34,310.83 1319.49,310.57 1319.65,310.12 1319.80,309.20 1319.96,308.46 1320.11,307.98 1320.26,307.13 1320.42,306.42 1320.57,306.02 1320.73,305.78 1320.88,305.18 1321.03,305.32 1321.19,305.90 1321.34,306.67 1321.50,307.28 1321.65,307.78 1321.80,308.67 1321.96,309.46 1322.11,310.23 1322.27,311.09 1322.42,311.42 1322.57,311.88 1322.73,311.94 1322.88,312.16 1323.04,312.51 1323.19,312.57 1323.34,312.44 1323.50,312.46 1323.65,312.56 1323.81,312.65 1323.96,312.76 1324.11,312.87 1324.27,312.76 1324.42,312.69 1324.58,312.79 1324.73,312.91 1324.88,312.84 1325.04,312.93 1325.19,313.03 1325.35,312.80 1325.50,312.78 1325.65,312.99 1325.81,313.17 1325.96,313.44 1326.12,313.30 1326.27,313.37 1326.42,313.22 1326.58,313.32 1326.73,313.35 1326.89,313.29 1327.04,312.97 1327.19,313.05 1327.35,312.58 1327.50,312.62 1327.66,312.53 1327.81,312.33 1327.96,312.02 1328.12,311.78 1328.27,311.60 1328.43,311.28 1328.58,310.58 1328.73,310.10 1328.89,309.50 1329.04,308.65 1329.20,307.78 1329.35,306.62 1329.50,305.64 1329.66,304.46 1329.81,303.77 1329.97,303.45 1330.12,303.16 1330.27,303.33 1330.43,303.68 1330.58,304.31 1330.74,305.42 1330.89,306.36 1331.04,307.15 1331.20,308.01 1331.35,308.64 1331.51,309.34 1331.66,309.83 1331.81,310.42 1331.97,310.94 1332.12,311.56 1332.28,311.62 1332.43,312.31 1332.58,312.65 1332.74,312.74 1332.89,312.93 1333.05,313.16 1333.20,313.18 1333.35,313.43 1333.51,313.24 1333.66,313.67 1333.82,313.66 1333.97,313.48 1334.12,313.55 1334.28,313.53 1334.43,313.25 1334.59,313.29 1334.74,313.23 1334.89,313.17 1335.05,312.75 1335.20,312.63 1335.36,312.64 1335.51,312.66 1335.66,312.65 1335.82,312.71 1335.97,312.69 1336.13,312.60 1336.28,312.64 1336.43,312.95 1336.59,312.87 1336.74,312.78 1336.90,312.60 1337.05,312.59 1337.20,312.70 1337.36,312.56 1337.51,312.38 1337.67,312.40 1337.82,312.08 1337.97,311.94 1338.13,311.67 1338.28,311.76 1338.44,311.68 1338.59,311.09 1338.74,310.89 1338.90,310.29 1339.05,309.09 1339.21,307.72 1339.36,305.85 1339.51,303.20 1339.67,299.17 1339.82,294.43 1339.98,289.41 1340.13,283.77 1340.28,278.10 1340.44,273.24 1340.59,269.70 1340.75,268.50 1340.90,269.52 1341.05,273.07 1341.21,277.65 1341.36,283.00 1341.52,288.56 1341.67,293.87 1341.82,298.26 1341.98,302.08 1342.13,304.73 1342.29,307.14 1342.44,308.70 1342.59,310.05 1342.75,310.84 1342.90,311.06 1343.06,311.39 1343.21,311.80 1343.36,312.21 1343.52,312.38 1343.67,312.40 1343.83,312.66 1343.98,312.82 1344.13,312.95 1344.29,313.29 1344.44,313.18 1344.60,313.22 1344.75,313.25 1344.90,313.41 1345.06,313.19 1345.21,313.09 1345.37,312.77 1345.52,312.69 1345.67,312.39 1345.83,312.56 1345.98,312.63 1346.14,312.43 1346.29,312.36 1346.44,312.45 1346.60,312.34 1346.75,312.18 1346.91,312.26 1347.06,312.40 1347.21,312.56 1347.37,312.49 1347.52,312.55 1347.68,312.54 1347.83,312.54 1347.98,312.60 1348.14,312.98 1348.29,312.81 1348.45,312.90 1348.60,312.89 1348.75,312.74 1348.91,312.63 1349.06,313.00 1349.22,313.16 1349.37,312.97 1349.52,312.73 1349.68,312.93 1349.83,312.67 1349.99,312.67 1350.14,312.84 1350.29,312.91 1350.45,312.53 1350.60,312.35 1350.76,312.29 1350.91,312.39 1351.06,312.10 1351.22,312.38 1351.37,312.27 1351.53,311.98 1351.68,311.95 1351.83,311.77 1351.99,311.90 1352.14,312.03 1352.30,311.99 1352.45,312.11 1352.60,312.02 1352.76,311.93 1352.91,312.02 1353.07,311.81 1353.22,311.88 1353.37,311.66 1353.53,311.43 1353.68,311.48 1353.84,311.63 1353.99,311.28 1354.14,311.00 1354.30,310.97 1354.45,310.97 1354.61,310.99 1354.76,311.13 1354.91,311.06 1355.07,310.94 1355.22,310.42 1355.38,310.53 1355.53,310.45 1355.68,309.94 1355.84,309.44 1355.99,309.03 1356.15,308.33 1356.30,308.11 1356.45,307.52 1356.61,307.06 1356.76,306.15 1356.92,305.55 1357.07,304.90 1357.22,304.12 1357.38,302.99 1357.53,301.52 1357.69,298.87 1357.84,295.56 1357.99,290.75 1358.15,283.68 1358.30,273.14 1358.46,257.91 1358.61,237.05 1358.76,209.95 1358.92,178.01 1359.07,144.35 1359.23,111.82 1359.38,87.79 1359.53,79.24 1359.69,88.44 1359.84,112.90 1360.00,145.35 1360.15,180.02 1360.30,211.24 1360.46,237.47 1360.61,257.70 1360.77,272.62 1360.92,283.11 1361.07,289.92 1361.23,294.64 1361.38,297.94 1361.54,299.94 1361.69,301.60 1361.84,302.41 1362.00,303.14 1362.15,303.42 1362.31,303.61 1362.46,303.64 1362.61,303.39 1362.77,302.67 1362.92,301.56 1363.08,299.98 1363.23,297.93 1363.38,295.04 1363.54,290.82 1363.69,284.71 1363.85,277.22 1364.00,269.01 1364.15,259.31 1364.31,248.69 1364.46,238.07 1364.62,228.23 1364.77,220.98 1364.92,218.68 1365.08,221.59 1365.23,229.27 1365.39,238.59 1365.54,249.61 1365.69,260.34 1365.85,270.61 1366.00,279.51 1366.16,286.68 1366.31,292.37 1366.46,296.63 1366.62,299.70 1366.77,301.78 1366.93,303.10 1367.08,303.96 1367.23,304.28 1367.39,304.40 1367.54,304.60 1367.70,304.40 1367.85,303.81 1368.00,302.78 1368.16,301.35 1368.31,299.55 1368.47,297.11 1368.62,293.72 1368.77,290.24 1368.93,285.44 1369.08,280.37 1369.24,275.31 1369.39,270.35 1369.54,266.11 1369.70,263.50 1369.85,263.05 1370.01,264.85 1370.16,267.75 1370.31,272.42 1370.47,277.57 1370.62,282.97 1370.78,288.19 1370.93,293.23 1371.08,296.99 1371.24,300.18 1371.39,302.69 1371.55,304.62 1371.70,306.37 1371.85,307.69 1372.01,308.95 1372.16,309.45 1372.32,309.70 1372.47,310.24 1372.62,310.50 1372.78,310.93 1372.93,311.40 1373.09,311.27 1373.24,311.28 1373.39,310.96 1373.55,311.04 1373.70,311.03 1373.86,310.97 1374.01,310.77 1374.16,310.68 1374.32,310.54 1374.47,310.84 1374.63,310.98 1374.78,311.40 1374.93,311.69 1375.09,311.44 1375.24,311.06 1375.40,311.13 1375.55,310.71 1375.70,310.15 1375.86,309.50 1376.01,308.24 1376.17,306.87 1376.32,305.34 1376.47,304.47 1376.63,302.92 1376.78,301.35 1376.94,299.83 1377.09,299.21 1377.24,298.71 1377.40,299.31 1377.55,300.03 1377.71,300.93 1377.86,301.73 1378.01,303.37 1378.17,304.99 1378.32,306.51 1378.48,307.40 1378.63,308.39 1378.78,309.15 1378.94,309.75 1379.09,310.64 1379.25,311.27 1379.40,311.51 1379.55,311.78 1379.71,312.04 1379.86,312.22 1380.02,312.57 1380.17,312.74 1380.32,313.09 1380.48,313.10 1380.63,313.37 1380.79,313.75 1380.94,313.72 1381.09,313.80 1381.25,313.97 1381.40,314.14 1381.56,313.93 1381.71,313.76 1381.86,313.85 1382.02,313.77 1382.17,313.62 1382.33,313.71 1382.48,313.75 1382.63,313.80 1382.79,313.42 1382.94,313.75 1383.10,313.66 1383.25,313.48 1383.40,313.43 1383.56,313.31 1383.71,313.19 1383.87,313.30 1384.02,313.20 1384.17,313.27 1384.33,313.18 1384.48,313.22 1384.64,312.96 1384.79,312.92 1384.94,313.03 1385.10,313.07 1385.25,312.74 1385.41,312.80 1385.56,312.93 1385.71,313.09 1385.87,313.06 1386.02,313.28 1386.18,313.53 1386.33,313.69 1386.48,313.58 1386.64,313.62 1386.79,313.80 1386.95,313.75 1387.10,313.48 1387.25,313.62 1387.41,313.79 1387.56,313.65 1387.72,313.73 1387.87,313.82 1388.02,313.92 1388.18,313.93 1388.33,313.87 1388.49,313.83 1388.64,313.74 1388.79,313.55 1388.95,313.56 1389.10,313.20 1389.26,313.32 1389.41,313.11 1389.56,312.98 1389.72,313.10 1389.87,313.37 1390.03,313.45 1390.18,313.65 1390.33,313.67 1390.49,313.90 1390.64,313.71 1390.80,313.85 1390.95,313.83 1391.10,313.57 1391.26,313.59 1391.41,313.67 1391.57,313.76 1391.72,313.59 1391.87,313.76 1392.03,314.04 1392.18,313.98 1392.34,313.71 1392.49,313.70 1392.64,313.77 1392.80,313.63 1392.95,313.37 1393.11,313.44 1393.26,313.45 1393.41,313.31 1393.57,313.71 1393.72,314.11 1393.88,314.00 1394.03,313.71 1394.18,313.91 1394.34,314.23 1394.49,314.18" fill="none" stroke="#E51E25" stroke-width="2.2" stroke-linejoin="round" />
<text transform="translate(1068.57,116.30) scale(0.9922,1.0000)" font-family='"Liberation Sans", Arial, sans-serif' font-size="25.00" fill="#E2141E">FT</text>
<line x1="688.0" y1="270.2" x2="780.4" y2="270.2" stroke="#E4000F" stroke-width="6.3"/>
<polygon points="790.40,270.20 775.40,278.60 777.90,270.20 775.40,261.80" fill="#E4000F"/>
<line x1="1039.4" y1="126.8" x2="1132.2" y2="126.8" stroke="#E4000F" stroke-width="5.8"/>
<polygon points="1142.20,126.80 1127.20,135.20 1129.70,126.80 1127.20,118.40" fill="#E4000F"/>
</svg></body></html>
